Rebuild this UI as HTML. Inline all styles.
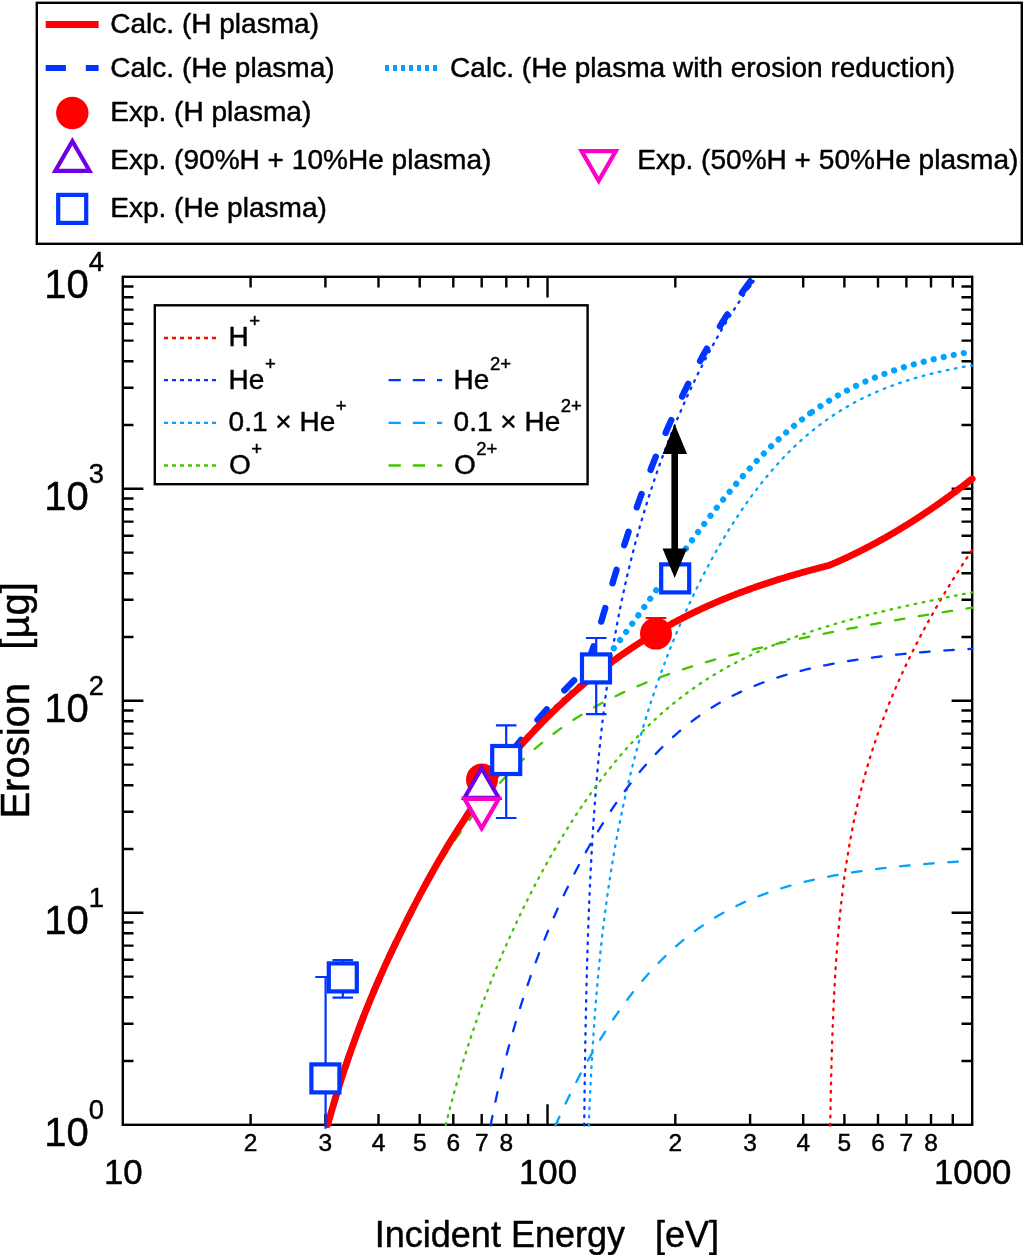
<!DOCTYPE html>
<html><head><meta charset="utf-8"><title>Erosion vs Incident Energy</title>
<style>html,body{margin:0;padding:0;background:#fff}svg{display:block}text{stroke:#000;stroke-width:.45px;stroke-linejoin:round}</style></head>
<body>
<svg width="1025" height="1255" viewBox="0 0 1025 1255">
<rect width="1025" height="1255" fill="#fff"/>
<g stroke="#000" stroke-width="2.4" fill="none">
<rect x="122.8" y="276.8" width="849.4" height="848.0"/>
<path d="M250.6,1124.8 v-10.7 M250.6,276.8 v10.7 M325.4,1124.8 v-10.7 M325.4,276.8 v10.7 M378.5,1124.8 v-10.7 M378.5,276.8 v10.7 M419.7,1124.8 v-10.7 M419.7,276.8 v10.7 M453.3,1124.8 v-10.7 M453.3,276.8 v10.7 M481.7,1124.8 v-10.7 M481.7,276.8 v10.7 M506.3,1124.8 v-10.7 M506.3,276.8 v10.7 M528.1,1124.8 v-10.7 M528.1,276.8 v10.7 M675.3,1124.8 v-10.7 M675.3,276.8 v10.7 M750.1,1124.8 v-10.7 M750.1,276.8 v10.7 M803.2,1124.8 v-10.7 M803.2,276.8 v10.7 M844.4,1124.8 v-10.7 M844.4,276.8 v10.7 M878.0,1124.8 v-10.7 M878.0,276.8 v10.7 M906.4,1124.8 v-10.7 M906.4,276.8 v10.7 M931.0,1124.8 v-10.7 M931.0,276.8 v10.7 M952.8,1124.8 v-10.7 M952.8,276.8 v10.7 M547.5,1124.8 v-20.6 M547.5,276.8 v20.6 M122.8,1061.0 h10.7 M972.2,1061.0 h-10.7 M122.8,1023.7 h10.7 M972.2,1023.7 h-10.7 M122.8,997.2 h10.7 M972.2,997.2 h-10.7 M122.8,976.6 h10.7 M972.2,976.6 h-10.7 M122.8,959.8 h10.7 M972.2,959.8 h-10.7 M122.8,945.6 h10.7 M972.2,945.6 h-10.7 M122.8,933.3 h10.7 M972.2,933.3 h-10.7 M122.8,922.5 h10.7 M972.2,922.5 h-10.7 M122.8,849.0 h10.7 M972.2,849.0 h-10.7 M122.8,811.7 h10.7 M972.2,811.7 h-10.7 M122.8,785.2 h10.7 M972.2,785.2 h-10.7 M122.8,764.6 h10.7 M972.2,764.6 h-10.7 M122.8,747.8 h10.7 M972.2,747.8 h-10.7 M122.8,733.6 h10.7 M972.2,733.6 h-10.7 M122.8,721.3 h10.7 M972.2,721.3 h-10.7 M122.8,710.5 h10.7 M972.2,710.5 h-10.7 M122.8,637.0 h10.7 M972.2,637.0 h-10.7 M122.8,599.7 h10.7 M972.2,599.7 h-10.7 M122.8,573.2 h10.7 M972.2,573.2 h-10.7 M122.8,552.6 h10.7 M972.2,552.6 h-10.7 M122.8,535.8 h10.7 M972.2,535.8 h-10.7 M122.8,521.6 h10.7 M972.2,521.6 h-10.7 M122.8,509.3 h10.7 M972.2,509.3 h-10.7 M122.8,498.5 h10.7 M972.2,498.5 h-10.7 M122.8,425.0 h10.7 M972.2,425.0 h-10.7 M122.8,387.7 h10.7 M972.2,387.7 h-10.7 M122.8,361.2 h10.7 M972.2,361.2 h-10.7 M122.8,340.6 h10.7 M972.2,340.6 h-10.7 M122.8,323.8 h10.7 M972.2,323.8 h-10.7 M122.8,309.6 h10.7 M972.2,309.6 h-10.7 M122.8,297.3 h10.7 M972.2,297.3 h-10.7 M122.8,286.5 h10.7 M972.2,286.5 h-10.7 M122.8,912.8 h20.6 M972.2,912.8 h-20.6 M122.8,700.8 h20.6 M972.2,700.8 h-20.6 M122.8,488.8 h20.6 M972.2,488.8 h-20.6"/>
</g>
<g fill="none" stroke-width="2.3" stroke-linecap="round">
<path d="M830.24,1125.62 L830.26,1124.42 L830.28,1123.22 L830.30,1122.02 L830.32,1120.82 L830.34,1119.62 L830.36,1118.42 L830.38,1117.22 L830.40,1116.02 L830.42,1114.82 L830.44,1113.62 L830.46,1112.42 L830.48,1111.22 L830.50,1110.02 L830.52,1108.82 L830.54,1107.63 L830.56,1106.43 L830.58,1105.23 L830.61,1104.03 L830.63,1102.83 L830.65,1101.63 L830.67,1100.43 L830.70,1099.23 L830.72,1098.03 L830.74,1096.83 L830.77,1095.63 L830.79,1094.43 L830.82,1093.23 L830.84,1092.03 L830.87,1090.83 L830.89,1089.63 L830.92,1088.43 L830.94,1087.23 L830.97,1086.03 L831.00,1084.83 L831.02,1083.63 L831.05,1082.43 L831.08,1081.23 L831.11,1080.03 L831.13,1078.83 L831.16,1077.63 L831.19,1076.43 L831.22,1075.23 L831.25,1074.03 L831.28,1072.83 L831.31,1071.63 L831.34,1070.43 L831.37,1069.23 L831.40,1068.03 L831.43,1066.83 L831.46,1065.64 L831.50,1064.44 L831.53,1063.24 L831.56,1062.04 L831.59,1060.84 L831.63,1059.64 L831.66,1058.44 L831.70,1057.24 L831.73,1056.04 L831.76,1054.84 L831.80,1053.64 L831.84,1052.44 L831.87,1051.24 L831.91,1050.04 L831.95,1048.84 L831.98,1047.64 L832.02,1046.44 L832.06,1045.24 L832.10,1044.04 L832.14,1042.85 L832.18,1041.65 L832.22,1040.45 L832.26,1039.25 L832.30,1038.05 L832.34,1036.85 L832.38,1035.65 L832.42,1034.45 L832.47,1033.25 L832.51,1032.05 L832.55,1030.85 L832.60,1029.65 L832.64,1028.45 L832.69,1027.26 L832.73,1026.06 L832.78,1024.86 L832.82,1023.66 L832.87,1022.46 L832.92,1021.26 L832.97,1020.06 L833.02,1018.86 L833.07,1017.66 L833.12,1016.46 L833.17,1015.26 L833.22,1014.07 L833.27,1012.87 L833.32,1011.67 L833.37,1010.47 L833.43,1009.27 L833.48,1008.07 L833.53,1006.87 L833.59,1005.67 L833.64,1004.48 L833.70,1003.28 L833.76,1002.08 L833.81,1000.88 L833.87,999.68 L833.93,998.48 L833.99,997.28 L834.05,996.08 L834.11,994.89 L834.17,993.69 L834.23,992.49 L834.29,991.29 L834.36,990.09 L834.42,988.89 L834.48,987.70 L834.55,986.50 L834.62,985.30 L834.68,984.10 L834.75,982.90 L834.82,981.71 L834.89,980.51 L834.95,979.31 L835.02,978.11 L835.10,976.91 L835.17,975.72 L835.24,974.52 L835.31,973.32 L835.39,972.12 L835.46,970.92 L835.54,969.73 L835.61,968.53 L835.69,967.33 L835.77,966.13 L835.85,964.94 L835.93,963.74 L836.01,962.54 L836.09,961.35 L836.17,960.15 L836.25,958.95 L836.34,957.75 L836.42,956.56 L836.51,955.36 L836.59,954.16 L836.68,952.97 L836.77,951.77 L836.86,950.57 L836.95,949.38 L837.04,948.18 L837.13,946.98 L837.22,945.79 L837.31,944.59 L837.41,943.39 L837.50,942.20 L837.60,941.00 L837.70,939.81 L837.80,938.61 L837.90,937.41 L838.00,936.22 L838.10,935.02 L838.20,933.83 L838.30,932.63 L838.41,931.44 L838.51,930.24 L838.62,929.05 L838.73,927.85 L838.84,926.65 L838.95,925.46 L839.06,924.27 L839.17,923.07 L839.28,921.88 L839.40,920.68 L839.51,919.49 L839.63,918.29 L839.75,917.10 L839.87,915.90 L839.99,914.71 L840.11,913.52 L840.23,912.32 L840.36,911.13 L840.48,909.94 L840.61,908.74 L840.73,907.55 L840.86,906.36 L840.99,905.16 L841.12,903.97 L841.25,902.78 L841.39,901.58 L841.52,900.39 L841.66,899.20 L841.80,898.01 L841.94,896.82 L842.07,895.62 L842.22,894.43 L842.36,893.24 L842.50,892.05 L842.65,890.86 L842.79,889.67 L842.94,888.48 L843.09,887.29 L843.24,886.10 L843.40,884.91 L843.55,883.72 L843.70,882.53 L843.86,881.34 L844.02,880.15 L844.18,878.96 L844.34,877.77 L844.50,876.58 L844.66,875.39 L844.83,874.20 L845.00,873.01 L845.16,871.82 L845.33,870.64 L845.51,869.45 L845.68,868.26 L845.85,867.07 L846.03,865.89 L846.21,864.70 L846.38,863.51 L846.56,862.33 L846.75,861.14 L846.93,859.96 L847.12,858.77 L847.30,857.58 L847.49,856.40 L847.68,855.21 L847.87,854.03 L848.07,852.85 L848.26,851.66 L848.46,850.48 L848.66,849.29 L848.86,848.11 L849.06,846.93 L849.26,845.75 L849.47,844.56 L849.67,843.38 L849.88,842.20 L850.09,841.02 L850.30,839.84 L850.52,838.66 L850.73,837.48 L850.95,836.30 L851.17,835.12 L851.39,833.94 L851.61,832.76 L851.84,831.58 L852.06,830.40 L852.29,829.22 L852.52,828.04 L852.75,826.87 L852.99,825.69 L853.22,824.51 L853.46,823.34 L853.70,822.16 L853.94,820.98 L854.18,819.81 L854.43,818.63 L854.67,817.46 L854.92,816.29 L855.17,815.11 L855.42,813.94 L855.68,812.77 L855.94,811.59 L856.19,810.42 L856.45,809.25 L856.71,808.08 L856.98,806.91 L857.24,805.74 L857.51,804.57 L857.78,803.40 L858.05,802.23 L858.33,801.06 L858.60,799.89 L858.88,798.73 L859.16,797.56 L859.44,796.39 L859.72,795.23 L860.01,794.06 L860.30,792.90 L860.58,791.73 L860.88,790.57 L861.17,789.40 L861.46,788.24 L861.76,787.08 L862.06,785.92 L862.36,784.75 L862.67,783.59 L862.97,782.43 L863.28,781.27 L863.59,780.11 L863.90,778.96 L864.21,777.80 L864.53,776.64 L864.85,775.48 L865.17,774.33 L865.49,773.17 L865.81,772.01 L866.14,770.86 L866.47,769.70 L866.80,768.55 L867.13,767.40 L867.46,766.25 L867.80,765.09 L868.14,763.94 L868.48,762.79 L868.82,761.64 L869.17,760.49 L869.51,759.34 L869.86,758.19 L870.21,757.05 L870.56,755.90 L870.92,754.75 L871.28,753.61 L871.63,752.46 L872.00,751.32 L872.36,750.17 L872.72,749.03 L873.09,747.89 L873.46,746.75 L873.83,745.61 L874.21,744.47 L874.58,743.33 L874.96,742.19 L875.34,741.05 L875.72,739.91 L876.10,738.77 L876.49,737.64 L876.88,736.50 L877.27,735.37 L877.66,734.23 L878.05,733.10 L878.45,731.97 L878.85,730.84 L879.25,729.70 L879.65,728.57 L880.06,727.44 L880.46,726.31 L880.87,725.19 L881.28,724.06 L881.69,722.93 L882.11,721.81 L882.52,720.68 L882.94,719.56 L883.36,718.43 L883.79,717.31 L884.21,716.19 L884.64,715.06 L885.07,713.94 L885.50,712.82 L885.93,711.70 L886.36,710.59 L886.80,709.47 L887.24,708.35 L887.68,707.24 L888.12,706.12 L888.57,705.01 L889.01,703.89 L889.46,702.78 L889.91,701.67 L890.36,700.55 L890.82,699.44 L891.28,698.33 L891.73,697.22 L892.19,696.12 L892.66,695.01 L893.12,693.90 L893.59,692.80 L894.05,691.69 L894.52,690.59 L894.99,689.48 L895.47,688.38 L895.94,687.28 L896.42,686.18 L896.90,685.08 L897.38,683.98 L897.86,682.88 L898.35,681.78 L898.83,680.69 L899.32,679.59 L899.81,678.49 L900.31,677.40 L900.80,676.31 L901.30,675.21 L901.79,674.12 L902.29,673.03 L902.79,671.94 L903.30,670.85 L903.80,669.76 L904.31,668.67 L904.82,667.59 L905.33,666.50 L905.84,665.42 L906.35,664.33 L906.87,663.25 L907.38,662.16 L907.90,661.08 L908.42,660.00 L908.95,658.92 L909.47,657.84 L910.00,656.76 L910.52,655.68 L911.05,654.61 L911.58,653.53 L912.12,652.46 L912.65,651.38 L913.19,650.31 L913.72,649.24 L914.26,648.16 L914.80,647.09 L915.35,646.02 L915.89,644.95 L916.44,643.88 L916.98,642.82 L917.53,641.75 L918.08,640.68 L918.64,639.62 L919.19,638.55 L919.75,637.49 L920.30,636.43 L920.86,635.36 L921.42,634.30 L921.98,633.24 L922.55,632.18 L923.11,631.12 L923.68,630.07 L924.25,629.01 L924.82,627.95 L925.39,626.90 L925.96,625.84 L926.53,624.79 L927.11,623.74 L927.69,622.68 L928.26,621.63 L928.84,620.58 L929.43,619.53 L930.01,618.48 L930.59,617.44 L931.18,616.39 L931.77,615.34 L932.35,614.30 L932.94,613.25 L933.54,612.21 L934.13,611.16 L934.72,610.12 L935.32,609.08 L935.92,608.04 L936.52,607.00 L937.12,605.96 L937.72,604.92 L938.32,603.88 L938.92,602.85 L939.53,601.81 L940.14,600.78 L940.75,599.74 L941.35,598.71 L941.97,597.68 L942.58,596.64 L943.19,595.61 L943.81,594.58 L944.42,593.55 L945.04,592.52 L945.66,591.49 L946.28,590.47 L946.90,589.44 L947.52,588.41 L948.15,587.39 L948.77,586.37 L949.40,585.34 L950.03,584.32 L950.66,583.30 L951.29,582.28 L951.92,581.26 L952.55,580.24 L953.19,579.22 L953.82,578.20 L954.46,577.18 L955.09,576.17 L955.73,575.15 L956.37,574.14 L957.01,573.12 L957.66,572.11 L958.30,571.09 L958.95,570.08 L959.59,569.07 L960.24,568.06 L960.89,567.05 L961.54,566.04 L962.19,565.03 L962.84,564.03 L963.49,563.02 L964.15,562.01 L964.80,561.01 L965.46,560.00 L966.12,559.00 L966.77,558.00 L967.43,556.99 L968.10,555.99 L968.76,554.99 L969.42,553.99 L970.08,552.99 L970.75,551.99 L971.42,551.00 L972.08,550.00 L972.20,549.82" stroke="#ff0000" stroke-dasharray="1.7,6.54" stroke-dashoffset="0.00"/>
<path d="M584.21,1125.40 L584.23,1124.20 L584.24,1123.00 L584.25,1121.80 L584.26,1120.60 L584.28,1119.40 L584.29,1118.20 L584.30,1117.00 L584.32,1115.80 L584.33,1114.60 L584.34,1113.40 L584.36,1112.20 L584.37,1111.00 L584.38,1109.80 L584.40,1108.60 L584.41,1107.40 L584.42,1106.20 L584.44,1105.00 L584.45,1103.80 L584.47,1102.60 L584.48,1101.40 L584.49,1100.20 L584.51,1099.00 L584.52,1097.80 L584.54,1096.60 L584.55,1095.41 L584.57,1094.21 L584.58,1093.01 L584.60,1091.81 L584.61,1090.61 L584.63,1089.41 L584.65,1088.21 L584.66,1087.01 L584.68,1085.81 L584.69,1084.61 L584.71,1083.41 L584.73,1082.21 L584.74,1081.01 L584.76,1079.81 L584.77,1078.61 L584.79,1077.41 L584.81,1076.21 L584.83,1075.01 L584.84,1073.81 L584.86,1072.61 L584.88,1071.41 L584.89,1070.21 L584.91,1069.01 L584.93,1067.81 L584.95,1066.61 L584.97,1065.41 L584.98,1064.21 L585.00,1063.01 L585.02,1061.81 L585.04,1060.61 L585.06,1059.41 L585.08,1058.21 L585.10,1057.01 L585.11,1055.81 L585.13,1054.61 L585.15,1053.41 L585.17,1052.21 L585.19,1051.01 L585.21,1049.81 L585.23,1048.61 L585.25,1047.41 L585.27,1046.21 L585.29,1045.01 L585.31,1043.81 L585.33,1042.61 L585.36,1041.41 L585.38,1040.21 L585.40,1039.01 L585.42,1037.81 L585.44,1036.61 L585.46,1035.41 L585.48,1034.21 L585.51,1033.01 L585.53,1031.81 L585.55,1030.61 L585.57,1029.41 L585.60,1028.21 L585.62,1027.01 L585.64,1025.81 L585.67,1024.61 L585.69,1023.41 L585.71,1022.21 L585.74,1021.01 L585.76,1019.81 L585.79,1018.62 L585.81,1017.42 L585.83,1016.22 L585.86,1015.02 L585.88,1013.82 L585.91,1012.62 L585.93,1011.42 L585.96,1010.22 L585.99,1009.02 L586.01,1007.82 L586.04,1006.62 L586.06,1005.42 L586.09,1004.22 L586.12,1003.02 L586.14,1001.82 L586.17,1000.62 L586.20,999.42 L586.23,998.22 L586.25,997.02 L586.28,995.82 L586.31,994.62 L586.34,993.42 L586.37,992.22 L586.40,991.02 L586.42,989.82 L586.45,988.62 L586.48,987.42 L586.51,986.22 L586.54,985.02 L586.57,983.82 L586.60,982.62 L586.63,981.42 L586.66,980.23 L586.69,979.03 L586.73,977.83 L586.76,976.63 L586.79,975.43 L586.82,974.23 L586.85,973.03 L586.89,971.83 L586.92,970.63 L586.95,969.43 L586.98,968.23 L587.02,967.03 L587.05,965.83 L587.09,964.63 L587.12,963.43 L587.15,962.23 L587.19,961.03 L587.22,959.83 L587.26,958.63 L587.29,957.43 L587.33,956.23 L587.37,955.03 L587.40,953.84 L587.44,952.64 L587.47,951.44 L587.51,950.24 L587.55,949.04 L587.59,947.84 L587.62,946.64 L587.66,945.44 L587.70,944.24 L587.74,943.04 L587.78,941.84 L587.82,940.64 L587.86,939.44 L587.90,938.24 L587.94,937.04 L587.98,935.84 L588.02,934.65 L588.06,933.45 L588.10,932.25 L588.14,931.05 L588.18,929.85 L588.23,928.65 L588.27,927.45 L588.31,926.25 L588.35,925.05 L588.40,923.85 L588.44,922.65 L588.49,921.45 L588.53,920.25 L588.58,919.06 L588.62,917.86 L588.67,916.66 L588.71,915.46 L588.76,914.26 L588.80,913.06 L588.85,911.86 L588.90,910.66 L588.95,909.46 L588.99,908.26 L589.04,907.06 L589.09,905.87 L589.14,904.67 L589.19,903.47 L589.24,902.27 L589.29,901.07 L589.34,899.87 L589.39,898.67 L589.44,897.47 L589.49,896.27 L589.54,895.07 L589.59,893.88 L589.65,892.68 L589.70,891.48 L589.75,890.28 L589.81,889.08 L589.86,887.88 L589.92,886.68 L589.97,885.48 L590.03,884.29 L590.08,883.09 L590.14,881.89 L590.19,880.69 L590.25,879.49 L590.31,878.29 L590.37,877.09 L590.42,875.90 L590.48,874.70 L590.54,873.50 L590.60,872.30 L590.66,871.10 L590.72,869.90 L590.78,868.70 L590.84,867.51 L590.90,866.31 L590.96,865.11 L591.03,863.91 L591.09,862.71 L591.15,861.51 L591.22,860.32 L591.28,859.12 L591.34,857.92 L591.41,856.72 L591.48,855.52 L591.54,854.32 L591.61,853.13 L591.67,851.93 L591.74,850.73 L591.81,849.53 L591.88,848.33 L591.95,847.14 L592.02,845.94 L592.09,844.74 L592.16,843.54 L592.23,842.34 L592.30,841.15 L592.37,839.95 L592.44,838.75 L592.51,837.55 L592.59,836.35 L592.66,835.16 L592.74,833.96 L592.81,832.76 L592.89,831.56 L592.96,830.37 L593.04,829.17 L593.11,827.97 L593.19,826.77 L593.27,825.58 L593.35,824.38 L593.43,823.18 L593.51,821.98 L593.59,820.79 L593.67,819.59 L593.75,818.39 L593.83,817.19 L593.91,816.00 L594.00,814.80 L594.08,813.60 L594.16,812.41 L594.25,811.21 L594.33,810.01 L594.42,808.82 L594.50,807.62 L594.59,806.42 L594.68,805.22 L594.77,804.03 L594.86,802.83 L594.94,801.63 L595.03,800.44 L595.13,799.24 L595.22,798.05 L595.31,796.85 L595.40,795.65 L595.49,794.46 L595.59,793.26 L595.68,792.06 L595.78,790.87 L595.87,789.67 L595.97,788.47 L596.06,787.28 L596.16,786.08 L596.26,784.89 L596.36,783.69 L596.46,782.49 L596.56,781.30 L596.66,780.10 L596.76,778.91 L596.86,777.71 L596.97,776.52 L597.07,775.32 L597.17,774.13 L597.28,772.93 L597.38,771.73 L597.49,770.54 L597.60,769.34 L597.70,768.15 L597.81,766.95 L597.92,765.76 L598.03,764.56 L598.14,763.37 L598.25,762.17 L598.36,760.98 L598.48,759.78 L598.59,758.59 L598.70,757.39 L598.82,756.20 L598.93,755.01 L599.05,753.81 L599.17,752.62 L599.28,751.42 L599.40,750.23 L599.52,749.04 L599.64,747.84 L599.76,746.65 L599.88,745.45 L600.01,744.26 L600.13,743.07 L600.25,741.87 L600.38,740.68 L600.50,739.49 L600.63,738.29 L600.76,737.10 L600.89,735.91 L601.01,734.71 L601.14,733.52 L601.27,732.33 L601.41,731.13 L601.54,729.94 L601.67,728.75 L601.80,727.56 L601.94,726.36 L602.07,725.17 L602.21,723.98 L602.35,722.79 L602.48,721.59 L602.62,720.40 L602.76,719.21 L602.90,718.02 L603.04,716.83 L603.19,715.64 L603.33,714.44 L603.47,713.25 L603.62,712.06 L603.76,710.87 L603.91,709.68 L604.06,708.49 L604.21,707.30 L604.36,706.11 L604.51,704.92 L604.66,703.73 L604.81,702.54 L604.96,701.35 L605.12,700.16 L605.27,698.97 L605.43,697.78 L605.58,696.59 L605.74,695.40 L605.90,694.21 L606.06,693.02 L606.22,691.83 L606.38,690.64 L606.54,689.45 L606.70,688.26 L606.87,687.07 L607.03,685.88 L607.20,684.70 L607.37,683.51 L607.54,682.32 L607.70,681.13 L607.87,679.94 L608.05,678.76 L608.22,677.57 L608.39,676.38 L608.56,675.19 L608.74,674.01 L608.92,672.82 L609.09,671.63 L609.27,670.45 L609.45,669.26 L609.63,668.07 L609.81,666.89 L609.99,665.70 L610.18,664.51 L610.36,663.33 L610.55,662.14 L610.73,660.96 L610.92,659.77 L611.11,658.59 L611.30,657.40 L611.49,656.22 L611.68,655.03 L611.87,653.85 L612.07,652.66 L612.26,651.48 L612.46,650.30 L612.65,649.11 L612.85,647.93 L613.05,646.75 L613.25,645.56 L613.45,644.38 L613.65,643.20 L613.86,642.01 L614.06,640.83 L614.27,639.65 L614.47,638.47 L614.68,637.28 L614.89,636.10 L615.10,634.92 L615.31,633.74 L615.53,632.56 L615.74,631.38 L615.95,630.20 L616.17,629.02 L616.39,627.84 L616.60,626.66 L616.82,625.48 L617.04,624.30 L617.27,623.12 L617.49,621.94 L617.71,620.76 L617.94,619.58 L618.16,618.40 L618.39,617.23 L618.62,616.05 L618.85,614.87 L619.08,613.69 L619.31,612.51 L619.55,611.34 L619.78,610.16 L620.02,608.98 L620.25,607.81 L620.49,606.63 L620.73,605.46 L620.97,604.28 L621.21,603.10 L621.46,601.93 L621.70,600.75 L621.95,599.58 L622.19,598.41 L622.44,597.23 L622.69,596.06 L622.94,594.88 L623.19,593.71 L623.44,592.54 L623.70,591.36 L623.95,590.19 L624.21,589.02 L624.47,587.85 L624.73,586.68 L624.99,585.50 L625.25,584.33 L625.51,583.16 L625.77,581.99 L626.04,580.82 L626.31,579.65 L626.57,578.48 L626.84,577.31 L627.11,576.14 L627.38,574.97 L627.66,573.81 L627.93,572.64 L628.21,571.47 L628.48,570.30 L628.76,569.13 L629.04,567.97 L629.32,566.80 L629.60,565.63 L629.89,564.47 L630.17,563.30 L630.46,562.14 L630.74,560.97 L631.03,559.81 L631.32,558.64 L631.61,557.48 L631.90,556.31 L632.20,555.15 L632.49,553.99 L632.79,552.82 L633.09,551.66 L633.39,550.50 L633.69,549.34 L633.99,548.18 L634.29,547.02 L634.60,545.85 L634.90,544.69 L635.21,543.53 L635.52,542.37 L635.83,541.22 L636.14,540.06 L636.45,538.90 L636.76,537.74 L637.08,536.58 L637.39,535.42 L637.71,534.27 L638.03,533.11 L638.35,531.95 L638.67,530.80 L639.00,529.64 L639.32,528.49 L639.65,527.33 L639.97,526.18 L640.30,525.02 L640.63,523.87 L640.96,522.72 L641.29,521.56 L641.63,520.41 L641.96,519.26 L642.30,518.11 L642.64,516.95 L642.98,515.80 L643.32,514.65 L643.66,513.50 L644.01,512.35 L644.35,511.20 L644.70,510.05 L645.05,508.91 L645.39,507.76 L645.74,506.61 L646.10,505.46 L646.45,504.32 L646.81,503.17 L647.16,502.02 L647.52,500.88 L647.88,499.73 L648.24,498.59 L648.60,497.45 L648.96,496.30 L649.33,495.16 L649.69,494.02 L650.06,492.87 L650.43,491.73 L650.80,490.59 L651.17,489.45 L651.55,488.31 L651.92,487.17 L652.30,486.03 L652.67,484.89 L653.05,483.75 L653.43,482.61 L653.82,481.48 L654.20,480.34 L654.58,479.20 L654.97,478.07 L655.36,476.93 L655.75,475.79 L656.14,474.66 L656.53,473.53 L656.92,472.39 L657.32,471.26 L657.71,470.13 L658.11,468.99 L658.51,467.86 L658.91,466.73 L659.31,465.60 L659.71,464.47 L660.12,463.34 L660.52,462.21 L660.93,461.08 L661.34,459.95 L661.75,458.83 L662.16,457.70 L662.58,456.57 L662.99,455.45 L663.41,454.32 L663.83,453.20 L664.25,452.07 L664.67,450.95 L665.09,449.83 L665.51,448.70 L665.94,447.58 L666.37,446.46 L666.79,445.34 L667.22,444.22 L667.66,443.10 L668.09,441.98 L668.52,440.86 L668.96,439.74 L669.40,438.62 L669.83,437.51 L670.28,436.39 L670.72,435.28 L671.16,434.16 L671.61,433.05 L672.05,431.93 L672.50,430.82 L672.95,429.71 L673.40,428.59 L673.85,427.48 L674.31,426.37 L674.76,425.26 L675.22,424.15 L675.68,423.04 L676.14,421.93 L676.60,420.83 L677.06,419.72 L677.53,418.61 L677.99,417.51 L678.46,416.40 L678.93,415.30 L679.40,414.19 L679.87,413.09 L680.35,411.99 L680.82,410.89 L681.30,409.79 L681.78,408.69 L682.26,407.59 L682.74,406.49 L683.22,405.39 L683.71,404.29 L684.19,403.19 L684.68,402.10 L685.17,401.00 L685.66,399.91 L686.16,398.81 L686.65,397.72 L687.15,396.63 L687.64,395.54 L688.14,394.44 L688.64,393.35 L689.15,392.26 L689.65,391.17 L690.16,390.09 L690.66,389.00 L691.17,387.91 L691.68,386.83 L692.20,385.74 L692.71,384.66 L693.22,383.57 L693.74,382.49 L694.26,381.41 L694.78,380.33 L695.30,379.25 L695.83,378.17 L696.35,377.09 L696.88,376.01 L697.41,374.93 L697.94,373.86 L698.47,372.78 L699.01,371.71 L699.54,370.63 L700.08,369.56 L700.62,368.49 L701.16,367.42 L701.70,366.35 L702.25,365.28 L702.79,364.21 L703.34,363.14 L703.89,362.07 L704.44,361.01 L705.00,359.94 L705.55,358.88 L706.11,357.82 L706.67,356.75 L707.23,355.69 L707.79,354.63 L708.35,353.57 L708.92,352.52 L709.48,351.46 L710.05,350.40 L710.62,349.35 L711.20,348.29 L711.77,347.24 L712.35,346.19 L712.93,345.14 L713.51,344.08 L714.09,343.04 L714.67,341.99 L715.26,340.94 L715.85,339.89 L716.44,338.85 L717.03,337.80 L717.62,336.76 L718.22,335.72 L718.82,334.68 L719.42,333.64 L720.02,332.60 L720.62,331.56 L721.23,330.53 L721.83,329.49 L722.44,328.46 L723.06,327.43 L723.67,326.40 L724.28,325.37 L724.90,324.34 L725.52,323.31 L726.14,322.28 L726.77,321.26 L727.39,320.23 L728.02,319.21 L728.65,318.19 L729.28,317.17 L729.92,316.15 L730.55,315.13 L731.19,314.12 L731.83,313.10 L732.47,312.09 L733.12,311.08 L733.76,310.07 L734.41,309.06 L735.06,308.05 L735.72,307.04 L736.37,306.04 L737.03,305.03 L737.69,304.03 L738.35,303.03 L739.02,302.03 L739.69,301.03 L740.35,300.04 L741.03,299.04 L741.70,298.05 L742.38,297.06 L743.05,296.07 L743.74,295.08 L744.42,294.09 L745.10,293.11 L745.79,292.13 L746.48,291.14 L747.18,290.16 L747.87,289.19 L748.57,288.21 L749.27,287.24 L749.97,286.26 L750.68,285.29 L751.38,284.32 L752.09,283.36 L752.81,282.39 L753.52,281.43 L754.24,280.46 L754.96,279.50 L755.68,278.55 L756.41,277.59 L757.13,276.64 L757.29,276.43" stroke="#0034ff" stroke-dasharray="1.7,6.54" stroke-dashoffset="0.00"/>
<path d="M588.78,1125.70 L588.83,1124.50 L588.87,1123.30 L588.92,1122.11 L588.97,1120.91 L589.02,1119.71 L589.06,1118.51 L589.11,1117.31 L589.16,1116.11 L589.21,1114.91 L589.26,1113.71 L589.31,1112.51 L589.36,1111.31 L589.41,1110.12 L589.46,1108.92 L589.51,1107.72 L589.57,1106.52 L589.62,1105.32 L589.67,1104.12 L589.72,1102.92 L589.78,1101.72 L589.83,1100.52 L589.89,1099.33 L589.94,1098.13 L590.00,1096.93 L590.05,1095.73 L590.11,1094.53 L590.16,1093.33 L590.22,1092.13 L590.28,1090.94 L590.33,1089.74 L590.39,1088.54 L590.45,1087.34 L590.51,1086.14 L590.57,1084.94 L590.63,1083.74 L590.69,1082.55 L590.75,1081.35 L590.81,1080.15 L590.87,1078.95 L590.93,1077.75 L590.99,1076.55 L591.06,1075.35 L591.12,1074.16 L591.18,1072.96 L591.25,1071.76 L591.31,1070.56 L591.37,1069.36 L591.44,1068.16 L591.51,1066.97 L591.57,1065.77 L591.64,1064.57 L591.71,1063.37 L591.77,1062.17 L591.84,1060.98 L591.91,1059.78 L591.98,1058.58 L592.05,1057.38 L592.12,1056.18 L592.19,1054.99 L592.26,1053.79 L592.33,1052.59 L592.40,1051.39 L592.48,1050.19 L592.55,1049.00 L592.62,1047.80 L592.70,1046.60 L592.77,1045.40 L592.84,1044.21 L592.92,1043.01 L593.00,1041.81 L593.07,1040.61 L593.15,1039.42 L593.23,1038.22 L593.31,1037.02 L593.38,1035.82 L593.46,1034.63 L593.54,1033.43 L593.62,1032.23 L593.70,1031.03 L593.79,1029.84 L593.87,1028.64 L593.95,1027.44 L594.03,1026.25 L594.12,1025.05 L594.20,1023.85 L594.29,1022.65 L594.37,1021.46 L594.46,1020.26 L594.54,1019.06 L594.63,1017.87 L594.72,1016.67 L594.81,1015.47 L594.90,1014.28 L594.99,1013.08 L595.08,1011.88 L595.17,1010.69 L595.26,1009.49 L595.35,1008.29 L595.44,1007.10 L595.54,1005.90 L595.63,1004.70 L595.73,1003.51 L595.82,1002.31 L595.92,1001.12 L596.01,999.92 L596.11,998.72 L596.21,997.53 L596.31,996.33 L596.40,995.14 L596.50,993.94 L596.60,992.74 L596.71,991.55 L596.81,990.35 L596.91,989.16 L597.01,987.96 L597.12,986.77 L597.22,985.57 L597.33,984.38 L597.43,983.18 L597.54,981.98 L597.65,980.79 L597.75,979.59 L597.86,978.40 L597.97,977.20 L598.08,976.01 L598.19,974.81 L598.30,973.62 L598.42,972.42 L598.53,971.23 L598.64,970.04 L598.76,968.84 L598.87,967.65 L598.99,966.45 L599.10,965.26 L599.22,964.06 L599.34,962.87 L599.46,961.68 L599.58,960.48 L599.70,959.29 L599.82,958.09 L599.94,956.90 L600.06,955.71 L600.19,954.51 L600.31,953.32 L600.44,952.13 L600.56,950.93 L600.69,949.74 L600.82,948.55 L600.95,947.35 L601.07,946.16 L601.20,944.97 L601.34,943.77 L601.47,942.58 L601.60,941.39 L601.73,940.20 L601.87,939.00 L602.00,937.81 L602.14,936.62 L602.27,935.43 L602.41,934.23 L602.55,933.04 L602.69,931.85 L602.83,930.66 L602.97,929.47 L603.11,928.27 L603.25,927.08 L603.40,925.89 L603.54,924.70 L603.69,923.51 L603.83,922.32 L603.98,921.13 L604.13,919.94 L604.28,918.75 L604.43,917.56 L604.58,916.36 L604.73,915.17 L604.88,913.98 L605.03,912.79 L605.19,911.60 L605.34,910.41 L605.50,909.22 L605.66,908.03 L605.81,906.84 L605.97,905.66 L606.13,904.47 L606.29,903.28 L606.45,902.09 L606.62,900.90 L606.78,899.71 L606.95,898.52 L607.11,897.33 L607.28,896.14 L607.45,894.96 L607.61,893.77 L607.78,892.58 L607.95,891.39 L608.12,890.20 L608.30,889.02 L608.47,887.83 L608.65,886.64 L608.82,885.46 L609.00,884.27 L609.17,883.08 L609.35,881.90 L609.53,880.71 L609.71,879.52 L609.89,878.34 L610.08,877.15 L610.26,875.96 L610.45,874.78 L610.63,873.59 L610.82,872.41 L611.01,871.22 L611.19,870.04 L611.38,868.85 L611.58,867.67 L611.77,866.48 L611.96,865.30 L612.16,864.11 L612.35,862.93 L612.55,861.75 L612.74,860.56 L612.94,859.38 L613.14,858.20 L613.34,857.01 L613.54,855.83 L613.75,854.65 L613.95,853.47 L614.16,852.28 L614.36,851.10 L614.57,849.92 L614.78,848.74 L614.99,847.56 L615.20,846.37 L615.41,845.19 L615.62,844.01 L615.84,842.83 L616.05,841.65 L616.27,840.47 L616.49,839.29 L616.71,838.11 L616.93,836.93 L617.15,835.75 L617.37,834.57 L617.59,833.39 L617.82,832.21 L618.04,831.04 L618.27,829.86 L618.50,828.68 L618.73,827.50 L618.96,826.32 L619.19,825.15 L619.42,823.97 L619.65,822.79 L619.89,821.61 L620.13,820.44 L620.36,819.26 L620.60,818.09 L620.84,816.91 L621.08,815.73 L621.33,814.56 L621.57,813.38 L621.81,812.21 L622.06,811.04 L622.31,809.86 L622.55,808.69 L622.80,807.51 L623.06,806.34 L623.31,805.17 L623.56,803.99 L623.82,802.82 L624.07,801.65 L624.33,800.48 L624.59,799.30 L624.85,798.13 L625.11,796.96 L625.37,795.79 L625.63,794.62 L625.90,793.45 L626.16,792.28 L626.43,791.11 L626.70,789.94 L626.97,788.77 L627.24,787.60 L627.51,786.43 L627.78,785.26 L628.06,784.10 L628.33,782.93 L628.61,781.76 L628.89,780.59 L629.17,779.43 L629.45,778.26 L629.73,777.09 L630.02,775.93 L630.30,774.76 L630.59,773.60 L630.88,772.43 L631.17,771.27 L631.46,770.10 L631.75,768.94 L632.04,767.77 L632.33,766.61 L632.63,765.45 L632.93,764.29 L633.23,763.12 L633.53,761.96 L633.83,760.80 L634.13,759.64 L634.43,758.48 L634.74,757.32 L635.04,756.16 L635.35,755.00 L635.66,753.84 L635.97,752.68 L636.28,751.52 L636.59,750.36 L636.91,749.20 L637.22,748.04 L637.54,746.89 L637.86,745.73 L638.18,744.57 L638.50,743.42 L638.82,742.26 L639.15,741.11 L639.47,739.95 L639.80,738.80 L640.12,737.64 L640.45,736.49 L640.78,735.33 L641.12,734.18 L641.45,733.03 L641.78,731.88 L642.12,730.72 L642.46,729.57 L642.80,728.42 L643.14,727.27 L643.48,726.12 L643.82,724.97 L644.17,723.82 L644.51,722.67 L644.86,721.52 L645.21,720.37 L645.56,719.23 L645.91,718.08 L646.26,716.93 L646.61,715.79 L646.97,714.64 L647.33,713.49 L647.69,712.35 L648.05,711.20 L648.41,710.06 L648.77,708.91 L649.13,707.77 L649.50,706.63 L649.86,705.49 L650.23,704.34 L650.60,703.20 L650.97,702.06 L651.35,700.92 L651.72,699.78 L652.09,698.64 L652.47,697.50 L652.85,696.36 L653.23,695.22 L653.61,694.09 L653.99,692.95 L654.38,691.81 L654.76,690.67 L655.15,689.54 L655.54,688.40 L655.93,687.27 L656.32,686.13 L656.71,685.00 L657.10,683.87 L657.50,682.73 L657.90,681.60 L658.29,680.47 L658.69,679.34 L659.09,678.21 L659.50,677.08 L659.90,675.95 L660.31,674.82 L660.71,673.69 L661.12,672.56 L661.53,671.43 L661.94,670.30 L662.36,669.18 L662.77,668.05 L663.19,666.93 L663.60,665.80 L664.02,664.68 L664.44,663.55 L664.86,662.43 L665.29,661.30 L665.71,660.18 L666.14,659.06 L666.56,657.94 L666.99,656.82 L667.42,655.70 L667.86,654.58 L668.29,653.46 L668.72,652.34 L669.16,651.22 L669.60,650.11 L670.04,648.99 L670.48,647.87 L670.92,646.76 L671.37,645.64 L671.81,644.53 L672.26,643.42 L672.71,642.30 L673.16,641.19 L673.61,640.08 L674.06,638.97 L674.52,637.86 L674.97,636.75 L675.43,635.64 L675.89,634.53 L676.35,633.42 L676.81,632.31 L677.28,631.21 L677.74,630.10 L678.21,629.00 L678.68,627.89 L679.15,626.79 L679.62,625.68 L680.09,624.58 L680.57,623.48 L681.04,622.38 L681.52,621.28 L682.00,620.18 L682.48,619.08 L682.96,617.98 L683.45,616.88 L683.93,615.78 L684.42,614.69 L684.91,613.59 L685.40,612.49 L685.89,611.40 L686.38,610.31 L686.88,609.21 L687.38,608.12 L687.87,607.03 L688.37,605.94 L688.88,604.85 L689.38,603.76 L689.88,602.67 L690.39,601.58 L690.90,600.49 L691.41,599.41 L691.92,598.32 L692.43,597.24 L692.95,596.15 L693.46,595.07 L693.98,593.99 L694.50,592.91 L695.02,591.83 L695.55,590.75 L696.07,589.67 L696.60,588.59 L697.13,587.51 L697.66,586.43 L698.19,585.36 L698.72,584.28 L699.25,583.21 L699.79,582.14 L700.33,581.06 L700.87,579.99 L701.41,578.92 L701.95,577.85 L702.50,576.78 L703.05,575.71 L703.60,574.65 L704.15,573.58 L704.70,572.51 L705.25,571.45 L705.81,570.39 L706.37,569.32 L706.92,568.26 L707.49,567.20 L708.05,566.14 L708.61,565.08 L709.18,564.03 L709.75,562.97 L710.32,561.91 L710.89,560.86 L711.46,559.80 L712.04,558.75 L712.62,557.70 L713.20,556.65 L713.78,555.60 L714.36,554.55 L714.95,553.50 L715.53,552.45 L716.12,551.41 L716.71,550.36 L717.31,549.32 L717.90,548.28 L718.50,547.24 L719.10,546.20 L719.70,545.16 L720.30,544.12 L720.90,543.08 L721.51,542.05 L722.12,541.01 L722.73,539.98 L723.34,538.95 L723.95,537.92 L724.57,536.89 L725.19,535.86 L725.81,534.83 L726.43,533.81 L727.06,532.78 L727.68,531.76 L728.31,530.74 L728.94,529.72 L729.57,528.70 L730.21,527.68 L730.85,526.66 L731.49,525.65 L732.13,524.63 L732.77,523.62 L733.42,522.61 L734.06,521.60 L734.71,520.59 L735.37,519.58 L736.02,518.58 L736.68,517.57 L737.34,516.57 L738.00,515.57 L738.66,514.57 L739.33,513.57 L740.00,512.57 L740.67,511.58 L741.34,510.58 L742.01,509.59 L742.69,508.60 L743.37,507.61 L744.05,506.62 L744.74,505.64 L745.42,504.65 L746.11,503.67 L746.80,502.69 L747.50,501.71 L748.19,500.73 L748.89,499.76 L749.59,498.78 L750.30,497.81 L751.00,496.84 L751.71,495.87 L752.42,494.91 L753.14,493.94 L753.85,492.98 L754.57,492.02 L755.29,491.06 L756.02,490.10 L756.74,489.15 L757.47,488.19 L758.21,487.24 L758.94,486.29 L759.68,485.35 L760.42,484.40 L761.16,483.46 L761.90,482.52 L762.65,481.58 L763.40,480.64 L764.16,479.71 L764.91,478.78 L765.67,477.85 L766.43,476.92 L767.20,476.00 L767.96,475.07 L768.73,474.15 L769.51,473.24 L770.28,472.32 L771.06,471.41 L771.84,470.50 L772.63,469.59 L773.41,468.68 L774.20,467.78 L775.00,466.88 L775.79,465.98 L776.59,465.08 L777.39,464.19 L778.20,463.30 L779.01,462.41 L779.82,461.53 L780.63,460.65 L781.45,459.77 L782.27,458.89 L783.09,458.02 L783.92,457.15 L784.75,456.28 L785.58,455.42 L786.41,454.55 L787.25,453.70 L788.09,452.84 L788.94,451.99 L789.78,451.14 L790.64,450.29 L791.49,449.45 L792.35,448.61 L793.21,447.77 L794.07,446.94 L794.94,446.11 L795.81,445.28 L796.68,444.46 L797.56,443.64 L798.44,442.82 L799.32,442.01 L800.20,441.20 L801.09,440.40 L801.99,439.59 L802.88,438.80 L803.78,438.00 L804.68,437.21 L805.59,436.42 L806.50,435.64 L807.41,434.86 L808.32,434.08 L809.24,433.31 L810.16,432.54 L811.09,431.77 L812.01,431.01 L812.95,430.26 L813.88,429.50 L814.82,428.75 L815.76,428.01 L816.70,427.27 L817.65,426.53 L818.60,425.80 L819.55,425.07 L820.51,424.35 L821.47,423.63 L822.43,422.91 L823.40,422.20 L824.37,421.49 L825.34,420.79 L826.32,420.09 L827.30,419.39 L828.28,418.71 L829.26,418.02 L830.25,417.34 L831.24,416.66 L832.24,415.99 L833.23,415.32 L834.23,414.66 L835.24,414.00 L836.24,413.35 L837.25,412.70 L838.26,412.05 L839.28,411.41 L840.30,410.78 L841.32,410.14 L842.34,409.52 L843.37,408.90 L844.40,408.28 L845.43,407.67 L846.46,407.06 L847.50,406.46 L848.54,405.86 L849.58,405.26 L850.63,404.67 L851.68,404.09 L852.73,403.51 L853.78,402.93 L854.83,402.36 L855.89,401.80 L856.95,401.24 L858.02,400.68 L859.08,400.13 L860.15,399.58 L861.22,399.04 L862.29,398.50 L863.37,397.97 L864.45,397.44 L865.53,396.92 L866.61,396.40 L867.69,395.89 L868.78,395.38 L869.87,394.87 L870.96,394.37 L872.05,393.87 L873.15,393.38 L874.24,392.90 L875.34,392.41 L876.44,391.94 L877.55,391.46 L878.65,390.99 L879.76,390.53 L880.87,390.07 L881.98,389.62 L883.09,389.16 L884.20,388.72 L885.32,388.28 L886.43,387.84 L887.55,387.40 L888.67,386.98 L889.80,386.55 L890.92,386.13 L892.05,385.71 L893.17,385.30 L894.30,384.89 L895.43,384.49 L896.56,384.09 L897.69,383.69 L898.83,383.30 L899.96,382.91 L901.10,382.53 L902.24,382.15 L903.38,381.77 L904.52,381.40 L905.66,381.03 L906.81,380.67 L907.95,380.30 L909.10,379.95 L910.24,379.59 L911.39,379.24 L912.54,378.90 L913.69,378.56 L914.84,378.22 L915.99,377.88 L917.15,377.55 L918.30,377.22 L919.45,376.90 L920.61,376.58 L921.77,376.26 L922.93,375.94 L924.09,375.63 L925.24,375.32 L926.41,375.02 L927.57,374.72 L928.73,374.42 L929.89,374.12 L931.06,373.83 L932.22,373.54 L933.39,373.26 L934.55,372.97 L935.72,372.69 L936.89,372.42 L938.06,372.14 L939.22,371.87 L940.39,371.60 L941.56,371.34 L942.74,371.08 L943.91,370.82 L945.08,370.56 L946.25,370.31 L947.43,370.05 L948.60,369.81 L949.77,369.56 L950.95,369.32 L952.12,369.08 L953.30,368.84 L954.48,368.60 L955.65,368.37 L956.83,368.14 L958.01,367.91 L959.19,367.68 L960.37,367.46 L961.55,367.24 L962.73,367.02 L963.91,366.80 L965.09,366.59 L966.27,366.37 L967.45,366.16 L968.63,365.96 L969.81,365.75 L971.00,365.55 L972.18,365.35 L972.20,365.34" stroke="#00a3ff" stroke-dasharray="1.7,6.54" stroke-dashoffset="0.00"/>
<path d="M445.76,1124.94 L446.04,1123.78 L446.32,1122.61 L446.61,1121.45 L446.90,1120.28 L447.19,1119.12 L447.48,1117.95 L447.77,1116.79 L448.06,1115.62 L448.35,1114.46 L448.65,1113.30 L448.95,1112.14 L449.24,1110.97 L449.54,1109.81 L449.84,1108.65 L450.14,1107.49 L450.44,1106.33 L450.75,1105.16 L451.05,1104.00 L451.36,1102.84 L451.67,1101.68 L451.97,1100.52 L452.28,1099.36 L452.59,1098.21 L452.91,1097.05 L453.22,1095.89 L453.53,1094.73 L453.85,1093.57 L454.17,1092.41 L454.48,1091.26 L454.80,1090.10 L455.12,1088.94 L455.45,1087.79 L455.77,1086.63 L456.09,1085.48 L456.42,1084.32 L456.75,1083.17 L457.07,1082.01 L457.40,1080.86 L457.73,1079.71 L458.07,1078.55 L458.40,1077.40 L458.73,1076.25 L459.07,1075.10 L459.40,1073.94 L459.74,1072.79 L460.08,1071.64 L460.42,1070.49 L460.76,1069.34 L461.11,1068.19 L461.45,1067.04 L461.80,1065.89 L462.14,1064.74 L462.49,1063.59 L462.84,1062.45 L463.19,1061.30 L463.54,1060.15 L463.90,1059.00 L464.25,1057.86 L464.61,1056.71 L464.96,1055.57 L465.32,1054.42 L465.68,1053.28 L466.04,1052.13 L466.40,1050.99 L466.77,1049.84 L467.13,1048.70 L467.50,1047.56 L467.86,1046.41 L468.23,1045.27 L468.60,1044.13 L468.97,1042.99 L469.34,1041.85 L469.72,1040.71 L470.09,1039.57 L470.47,1038.43 L470.84,1037.29 L471.22,1036.15 L471.60,1035.01 L471.98,1033.87 L472.36,1032.74 L472.75,1031.60 L473.13,1030.46 L473.52,1029.33 L473.90,1028.19 L474.29,1027.05 L474.68,1025.92 L475.07,1024.78 L475.46,1023.65 L475.86,1022.52 L476.25,1021.38 L476.65,1020.25 L477.05,1019.12 L477.44,1017.99 L477.84,1016.86 L478.24,1015.72 L478.65,1014.59 L479.05,1013.46 L479.46,1012.33 L479.86,1011.20 L480.27,1010.08 L480.68,1008.95 L481.09,1007.82 L481.50,1006.69 L481.91,1005.57 L482.32,1004.44 L482.74,1003.31 L483.15,1002.19 L483.57,1001.06 L483.99,999.94 L484.41,998.81 L484.83,997.69 L485.25,996.57 L485.68,995.44 L486.10,994.32 L486.53,993.20 L486.96,992.08 L487.39,990.96 L487.82,989.84 L488.25,988.72 L488.68,987.60 L489.11,986.48 L489.55,985.36 L489.99,984.24 L490.42,983.13 L490.86,982.01 L491.30,980.89 L491.74,979.78 L492.19,978.66 L492.63,977.55 L493.08,976.43 L493.52,975.32 L493.97,974.21 L494.42,973.09 L494.87,971.98 L495.32,970.87 L495.78,969.76 L496.23,968.65 L496.68,967.54 L497.14,966.43 L497.60,965.32 L498.06,964.21 L498.52,963.10 L498.98,961.99 L499.44,960.89 L499.91,959.78 L500.38,958.67 L500.84,957.57 L501.31,956.46 L501.78,955.36 L502.25,954.26 L502.72,953.15 L503.20,952.05 L503.67,950.95 L504.15,949.85 L504.62,948.75 L505.10,947.65 L505.58,946.55 L506.06,945.45 L506.55,944.35 L507.03,943.25 L507.52,942.15 L508.00,941.05 L508.49,939.96 L508.98,938.86 L509.47,937.77 L509.96,936.67 L510.45,935.58 L510.95,934.48 L511.44,933.39 L511.94,932.30 L512.44,931.21 L512.94,930.12 L513.44,929.03 L513.94,927.94 L514.44,926.85 L514.95,925.76 L515.45,924.67 L515.96,923.58 L516.47,922.50 L516.98,921.41 L517.49,920.32 L518.00,919.24 L518.52,918.15 L519.03,917.07 L519.55,915.99 L520.06,914.90 L520.58,913.82 L521.10,912.74 L521.63,911.66 L522.15,910.58 L522.67,909.50 L523.20,908.42 L523.73,907.34 L524.25,906.27 L524.78,905.19 L525.31,904.11 L525.85,903.04 L526.38,901.96 L526.92,900.89 L527.45,899.82 L527.99,898.74 L528.53,897.67 L529.07,896.60 L529.61,895.53 L530.15,894.46 L530.70,893.39 L531.24,892.32 L531.79,891.25 L532.34,890.19 L532.89,889.12 L533.44,888.05 L533.99,886.99 L534.55,885.92 L535.10,884.86 L535.66,883.80 L536.22,882.73 L536.78,881.67 L537.34,880.61 L537.90,879.55 L538.47,878.49 L539.03,877.43 L539.60,876.38 L540.17,875.32 L540.74,874.26 L541.31,873.21 L541.88,872.15 L542.45,871.10 L543.03,870.05 L543.61,868.99 L544.18,867.94 L544.76,866.89 L545.34,865.84 L545.93,864.79 L546.51,863.74 L547.10,862.70 L547.68,861.65 L548.27,860.60 L548.86,859.56 L549.45,858.52 L550.05,857.47 L550.64,856.43 L551.24,855.39 L551.83,854.35 L552.43,853.31 L553.03,852.27 L553.63,851.23 L554.24,850.19 L554.84,849.16 L555.45,848.12 L556.05,847.09 L556.66,846.05 L557.27,845.02 L557.89,843.99 L558.50,842.96 L559.12,841.93 L559.73,840.90 L560.35,839.87 L560.97,838.84 L561.59,837.81 L562.22,836.79 L562.84,835.76 L563.47,834.74 L564.10,833.72 L564.73,832.70 L565.36,831.68 L565.99,830.66 L566.63,829.64 L567.26,828.62 L567.90,827.60 L568.54,826.59 L569.18,825.57 L569.82,824.56 L570.47,823.55 L571.11,822.54 L571.76,821.53 L572.41,820.52 L573.06,819.51 L573.71,818.50 L574.37,817.50 L575.02,816.49 L575.68,815.49 L576.34,814.49 L577.00,813.48 L577.67,812.48 L578.33,811.49 L579.00,810.49 L579.67,809.49 L580.34,808.50 L581.01,807.50 L581.68,806.51 L582.36,805.52 L583.03,804.53 L583.71,803.54 L584.39,802.55 L585.08,801.56 L585.76,800.57 L586.45,799.59 L587.13,798.61 L587.82,797.63 L588.52,796.64 L589.21,795.67 L589.90,794.69 L590.60,793.71 L591.30,792.74 L592.00,791.76 L592.70,790.79 L593.41,789.82 L594.12,788.85 L594.83,787.88 L595.54,786.91 L596.25,785.95 L596.96,784.98 L597.68,784.02 L598.40,783.06 L599.12,782.10 L599.84,781.14 L600.57,780.19 L601.29,779.23 L602.02,778.28 L602.75,777.32 L603.48,776.37 L604.22,775.43 L604.95,774.48 L605.69,773.53 L606.43,772.59 L607.18,771.65 L607.92,770.70 L608.67,769.77 L609.42,768.83 L610.17,767.89 L610.92,766.96 L611.68,766.03 L612.44,765.10 L613.19,764.17 L613.96,763.24 L614.72,762.31 L615.49,761.39 L616.26,760.47 L617.03,759.55 L617.80,758.63 L618.57,757.71 L619.35,756.80 L620.13,755.89 L620.91,754.98 L621.70,754.07 L622.48,753.16 L623.27,752.26 L624.06,751.35 L624.85,750.45 L625.65,749.55 L626.45,748.66 L627.25,747.76 L628.05,746.87 L628.85,745.98 L629.66,745.09 L630.47,744.21 L631.28,743.32 L632.09,742.44 L632.91,741.56 L633.73,740.68 L634.55,739.81 L635.37,738.93 L636.20,738.06 L637.03,737.19 L637.86,736.33 L638.69,735.46 L639.52,734.60 L640.36,733.74 L641.20,732.89 L642.04,732.03 L642.89,731.18 L643.74,730.33 L644.58,729.48 L645.44,728.64 L646.29,727.79 L647.15,726.95 L648.01,726.12 L648.87,725.28 L649.73,724.45 L650.60,723.62 L651.47,722.79 L652.34,721.97 L653.22,721.15 L654.09,720.33 L654.97,719.51 L655.85,718.70 L656.74,717.88 L657.62,717.08 L658.51,716.27 L659.40,715.47 L660.30,714.67 L661.20,713.87 L662.09,713.07 L663.00,712.28 L663.90,711.49 L664.81,710.71 L665.72,709.92 L666.63,709.14 L667.54,708.36 L668.46,707.59 L669.38,706.82 L670.30,706.05 L671.22,705.28 L672.15,704.52 L673.08,703.76 L674.01,703.00 L674.94,702.25 L675.88,701.50 L676.82,700.75 L677.76,700.01 L678.70,699.27 L679.65,698.53 L680.60,697.79 L681.55,697.06 L682.50,696.33 L683.45,695.60 L684.41,694.88 L685.37,694.16 L686.34,693.45 L687.30,692.73 L688.27,692.02 L689.24,691.32 L690.21,690.61 L691.18,689.91 L692.16,689.22 L693.14,688.52 L694.12,687.83 L695.11,687.14 L696.09,686.46 L697.08,685.78 L698.07,685.10 L699.06,684.43 L700.06,683.76 L701.06,683.09 L702.06,682.43 L703.06,681.77 L704.06,681.11 L705.07,680.46 L706.08,679.80 L707.09,679.16 L708.10,678.51 L709.11,677.87 L710.13,677.23 L711.15,676.60 L712.17,675.97 L713.19,675.34 L714.22,674.72 L715.25,674.10 L716.27,673.48 L717.31,672.87 L718.34,672.26 L719.37,671.65 L720.41,671.05 L721.45,670.44 L722.49,669.85 L723.53,669.25 L724.58,668.66 L725.62,668.08 L726.67,667.49 L727.72,666.91 L728.77,666.33 L729.83,665.76 L730.88,665.19 L731.94,664.62 L733.00,664.05 L734.06,663.49 L735.12,662.94 L736.19,662.38 L737.25,661.83 L738.32,661.28 L739.39,660.73 L740.46,660.19 L741.53,659.65 L742.60,659.12 L743.68,658.59 L744.76,658.06 L745.83,657.53 L746.91,657.01 L748.00,656.49 L749.08,655.97 L750.16,655.45 L751.25,654.94 L752.34,654.43 L753.42,653.93 L754.51,653.43 L755.61,652.93 L756.70,652.43 L757.79,651.94 L758.89,651.45 L759.98,650.96 L761.08,650.48 L762.18,649.99 L763.28,649.51 L764.38,649.04 L765.48,648.57 L766.59,648.09 L767.69,647.63 L768.80,647.16 L769.91,646.70 L771.02,646.24 L772.13,645.78 L773.24,645.33 L774.35,644.88 L775.46,644.43 L776.57,643.98 L777.69,643.54 L778.81,643.10 L779.92,642.66 L781.04,642.22 L782.16,641.79 L783.28,641.36 L784.40,640.93 L785.52,640.50 L786.64,640.08 L787.77,639.66 L788.89,639.24 L790.02,638.82 L791.14,638.41 L792.27,638.00 L793.40,637.59 L794.53,637.18 L795.66,636.78 L796.79,636.37 L797.92,635.97 L799.05,635.58 L800.18,635.18 L801.32,634.79 L802.45,634.39 L803.59,634.01 L804.72,633.62 L805.86,633.23 L807.00,632.85 L808.14,632.47 L809.27,632.09 L810.41,631.71 L811.55,631.34 L812.69,630.97 L813.83,630.59 L814.98,630.22 L816.12,629.86 L817.26,629.49 L818.41,629.13 L819.55,628.77 L820.70,628.41 L821.84,628.05 L822.99,627.69 L824.13,627.34 L825.28,626.99 L826.43,626.64 L827.58,626.29 L828.72,625.94 L829.87,625.60 L831.02,625.25 L832.17,624.91 L833.32,624.57 L834.48,624.23 L835.63,623.90 L836.78,623.56 L837.93,623.23 L839.09,622.89 L840.24,622.56 L841.39,622.23 L842.55,621.91 L843.70,621.58 L844.86,621.26 L846.01,620.93 L847.17,620.61 L848.33,620.29 L849.48,619.97 L850.64,619.66 L851.80,619.34 L852.96,619.03 L854.11,618.71 L855.27,618.40 L856.43,618.09 L857.59,617.78 L858.75,617.47 L859.91,617.17 L861.07,616.86 L862.23,616.56 L863.40,616.26 L864.56,615.96 L865.72,615.66 L866.88,615.36 L868.04,615.06 L869.21,614.76 L870.37,614.47 L871.53,614.18 L872.70,613.88 L873.86,613.59 L875.03,613.30 L876.19,613.01 L877.36,612.73 L878.52,612.44 L879.69,612.15 L880.85,611.87 L882.02,611.58 L883.18,611.30 L884.35,611.02 L885.52,610.74 L886.68,610.46 L887.85,610.18 L889.02,609.91 L890.19,609.63 L891.36,609.36 L892.52,609.08 L893.69,608.81 L894.86,608.54 L896.03,608.26 L897.20,607.99 L898.37,607.73 L899.54,607.46 L900.71,607.19 L901.88,606.92 L903.05,606.66 L904.22,606.39 L905.39,606.13 L906.56,605.87 L907.73,605.61 L908.90,605.34 L910.07,605.08 L911.25,604.83 L912.42,604.57 L913.59,604.31 L914.76,604.05 L915.93,603.80 L917.11,603.54 L918.28,603.29 L919.45,603.04 L920.63,602.78 L921.80,602.53 L922.97,602.28 L924.15,602.03 L925.32,601.78 L926.49,601.53 L927.67,601.28 L928.84,601.04 L930.02,600.79 L931.19,600.55 L932.37,600.30 L933.54,600.06 L934.72,599.81 L935.89,599.57 L937.07,599.33 L938.24,599.09 L939.42,598.85 L940.59,598.61 L941.77,598.37 L942.95,598.13 L944.12,597.89 L945.30,597.66 L946.48,597.42 L947.65,597.18 L948.83,596.95 L950.01,596.72 L951.18,596.48 L952.36,596.25 L953.54,596.02 L954.71,595.79 L955.89,595.55 L957.07,595.32 L958.25,595.09 L959.43,594.87 L960.60,594.64 L961.78,594.41 L962.96,594.18 L964.14,593.96 L965.32,593.73 L966.50,593.50 L967.67,593.28 L968.85,593.06 L970.03,592.83 L971.21,592.61 L972.20,592.42" stroke="#44c400" stroke-dasharray="1.7,6.54" stroke-dashoffset="0.00"/>
<path d="M490.60,1125.33 L490.83,1124.15 L491.06,1122.98 L491.29,1121.80 L491.52,1120.62 L491.76,1119.44 L491.99,1118.27 L492.23,1117.09 L492.46,1115.91 L492.70,1114.74 L492.94,1113.56 L493.18,1112.39 L493.42,1111.21 L493.67,1110.04 L493.91,1108.86 L494.16,1107.69 L494.40,1106.51 L494.65,1105.34 L494.90,1104.16 L495.15,1102.99 L495.40,1101.82 L495.66,1100.65 L495.91,1099.47 L496.17,1098.30 L496.42,1097.13 L496.68,1095.96 L496.94,1094.78 L497.20,1093.61 L497.46,1092.44 L497.73,1091.27 L497.99,1090.10 L498.26,1088.93 L498.52,1087.76 L498.79,1086.59 L499.06,1085.42 L499.33,1084.25 L499.60,1083.08 L499.88,1081.91 L500.15,1080.75 L500.43,1079.58 L500.70,1078.41 L500.98,1077.24 L501.26,1076.08 L501.54,1074.91 L501.82,1073.74 L502.11,1072.58 L502.39,1071.41 L502.68,1070.25 L502.97,1069.08 L503.26,1067.92 L503.55,1066.75 L503.84,1065.59 L504.13,1064.42 L504.42,1063.26 L504.72,1062.10 L505.01,1060.94 L505.31,1059.77 L505.61,1058.61 L505.91,1057.45 L506.21,1056.29 L506.52,1055.13 L506.82,1053.97 L507.13,1052.81 L507.44,1051.65 L507.74,1050.49 L508.05,1049.33 L508.37,1048.17 L508.68,1047.01 L508.99,1045.85 L509.31,1044.69 L509.62,1043.54 L509.94,1042.38 L510.26,1041.22 L510.58,1040.07 L510.90,1038.91 L511.23,1037.75 L511.55,1036.60 L511.88,1035.44 L512.21,1034.29 L512.53,1033.14 L512.86,1031.98 L513.20,1030.83 L513.53,1029.68 L513.86,1028.52 L514.20,1027.37 L514.54,1026.22 L514.87,1025.07 L515.21,1023.92 L515.56,1022.77 L515.90,1021.62 L516.24,1020.47 L516.59,1019.32 L516.93,1018.17 L517.28,1017.02 L517.63,1015.87 L517.98,1014.72 L518.34,1013.58 L518.69,1012.43 L519.05,1011.28 L519.40,1010.14 L519.76,1008.99 L520.12,1007.85 L520.48,1006.70 L520.84,1005.56 L521.21,1004.42 L521.57,1003.27 L521.94,1002.13 L522.30,1000.99 L522.67,999.85 L523.04,998.71 L523.42,997.56 L523.79,996.42 L524.17,995.28 L524.54,994.14 L524.92,993.01 L525.30,991.87 L525.68,990.73 L526.06,989.59 L526.44,988.45 L526.83,987.32 L527.22,986.18 L527.60,985.05 L527.99,983.91 L528.38,982.78 L528.78,981.64 L529.17,980.51 L529.56,979.38 L529.96,978.24 L530.36,977.11 L530.76,975.98 L531.16,974.85 L531.56,973.72 L531.97,972.59 L532.37,971.46 L532.78,970.33 L533.18,969.20 L533.59,968.07 L534.01,966.95 L534.42,965.82 L534.83,964.69 L535.25,963.57 L535.66,962.44 L536.08,961.32 L536.50,960.19 L536.92,959.07 L537.35,957.95 L537.77,956.82 L538.20,955.70 L538.62,954.58 L539.05,953.46 L539.48,952.34 L539.91,951.22 L540.35,950.10 L540.78,948.98 L541.22,947.86 L541.66,946.75 L542.10,945.63 L542.54,944.51 L542.98,943.40 L543.42,942.28 L543.87,941.17 L544.31,940.05 L544.76,938.94 L545.21,937.83 L545.66,936.72 L546.12,935.61 L546.57,934.49 L547.03,933.38 L547.48,932.28 L547.94,931.17 L548.40,930.06 L548.86,928.95 L549.33,927.84 L549.79,926.74 L550.26,925.63 L550.73,924.53 L551.20,923.42 L551.67,922.32 L552.14,921.22 L552.61,920.11 L553.09,919.01 L553.57,917.91 L554.05,916.81 L554.53,915.71 L555.01,914.61 L555.49,913.51 L555.98,912.42 L556.47,911.32 L556.95,910.22 L557.44,909.13 L557.94,908.03 L558.43,906.94 L558.92,905.85 L559.42,904.75 L559.92,903.66 L560.42,902.57 L560.92,901.48 L561.42,900.39 L561.93,899.30 L562.43,898.22 L562.94,897.13 L563.45,896.04 L563.96,894.96 L564.47,893.87 L564.99,892.79 L565.50,891.70 L566.02,890.62 L566.54,889.54 L567.06,888.46 L567.58,887.38 L568.11,886.30 L568.63,885.22 L569.16,884.14 L569.69,883.06 L570.22,881.99 L570.76,880.91 L571.29,879.84 L571.83,878.77 L572.36,877.69 L572.90,876.62 L573.45,875.55 L573.99,874.48 L574.53,873.41 L575.08,872.34 L575.63,871.27 L576.18,870.21 L576.73,869.14 L577.28,868.08 L577.84,867.01 L578.40,865.95 L578.95,864.89 L579.52,863.83 L580.08,862.77 L580.64,861.71 L581.21,860.65 L581.78,859.59 L582.35,858.54 L582.92,857.48 L583.49,856.43 L584.07,855.38 L584.64,854.32 L585.22,853.27 L585.80,852.22 L586.39,851.17 L586.97,850.13 L587.56,849.08 L588.15,848.03 L588.74,846.99 L589.33,845.94 L589.92,844.90 L590.52,843.86 L591.12,842.82 L591.72,841.78 L592.32,840.74 L592.92,839.71 L593.53,838.67 L594.14,837.64 L594.75,836.60 L595.36,835.57 L595.97,834.54 L596.59,833.51 L597.21,832.48 L597.83,831.45 L598.45,830.43 L599.07,829.40 L599.70,828.38 L600.33,827.36 L600.96,826.33 L601.59,825.31 L602.22,824.30 L602.86,823.28 L603.50,822.26 L604.14,821.25 L604.78,820.24 L605.43,819.22 L606.07,818.21 L606.72,817.20 L607.38,816.20 L608.03,815.19 L608.69,814.19 L609.34,813.18 L610.01,812.18 L610.67,811.18 L611.33,810.18 L612.00,809.18 L612.67,808.19 L613.34,807.19 L614.02,806.20 L614.69,805.21 L615.37,804.22 L616.05,803.23 L616.74,802.25 L617.42,801.26 L618.11,800.28 L618.80,799.30 L619.50,798.32 L620.19,797.34 L620.89,796.37 L621.59,795.39 L622.30,794.42 L623.00,793.45 L623.71,792.48 L624.42,791.51 L625.13,790.55 L625.85,789.59 L626.57,788.62 L627.29,787.66 L628.01,786.71 L628.74,785.75 L629.47,784.80 L630.20,783.85 L630.93,782.90 L631.67,781.95 L632.41,781.00 L633.15,780.06 L633.89,779.12 L634.64,778.18 L635.39,777.24 L636.14,776.31 L636.90,775.38 L637.66,774.45 L638.42,773.52 L639.18,772.59 L639.95,771.67 L640.72,770.75 L641.49,769.83 L642.26,768.91 L643.04,768.00 L643.82,767.09 L644.61,766.18 L645.39,765.27 L646.18,764.37 L646.97,763.47 L647.77,762.57 L648.57,761.68 L649.37,760.78 L650.17,759.89 L650.98,759.00 L651.79,758.12 L652.60,757.24 L653.42,756.36 L654.24,755.48 L655.06,754.60 L655.89,753.73 L656.72,752.87 L657.55,752.00 L658.38,751.14 L659.22,750.28 L660.06,749.42 L660.90,748.57 L661.75,747.72 L662.60,746.87 L663.45,746.03 L664.31,745.19 L665.17,744.35 L666.03,743.52 L666.90,742.69 L667.77,741.86 L668.64,741.04 L669.52,740.21 L670.40,739.40 L671.28,738.58 L672.16,737.77 L673.05,736.97 L673.94,736.16 L674.84,735.36 L675.74,734.57 L676.64,733.78 L677.54,732.99 L678.45,732.20 L679.36,731.42 L680.27,730.64 L681.19,729.87 L682.11,729.10 L683.04,728.34 L683.96,727.57 L684.89,726.82 L685.83,726.06 L686.77,725.31 L687.71,724.57 L688.65,723.82 L689.59,723.09 L690.54,722.35 L691.50,721.62 L692.45,720.90 L693.41,720.18 L694.38,719.46 L695.34,718.75 L696.31,718.04 L697.28,717.34 L698.26,716.64 L699.23,715.94 L700.22,715.25 L701.20,714.56 L702.19,713.88 L703.18,713.20 L704.17,712.53 L705.17,711.86 L706.17,711.20 L707.17,710.54 L708.17,709.88 L709.18,709.23 L710.19,708.59 L711.21,707.95 L712.23,707.31 L713.25,706.68 L714.27,706.05 L715.29,705.43 L716.32,704.81 L717.35,704.20 L718.39,703.59 L719.42,702.98 L720.46,702.38 L721.51,701.79 L722.55,701.20 L723.60,700.61 L724.65,700.03 L725.70,699.45 L726.76,698.88 L727.81,698.32 L728.87,697.75 L729.94,697.20 L731.00,696.64 L732.07,696.10 L733.14,695.55 L734.21,695.02 L735.29,694.48 L736.36,693.95 L737.44,693.43 L738.52,692.91 L739.61,692.39 L740.69,691.88 L741.78,691.38 L742.87,690.87 L743.97,690.38 L745.06,689.89 L746.16,689.40 L747.25,688.91 L748.35,688.44 L749.46,687.96 L750.56,687.49 L751.67,687.03 L752.78,686.57 L753.89,686.11 L755.00,685.66 L756.11,685.21 L757.23,684.77 L758.34,684.33 L759.46,683.89 L760.58,683.46 L761.70,683.04 L762.83,682.62 L763.95,682.20 L765.08,681.78 L766.21,681.38 L767.34,680.97 L768.47,680.57 L769.60,680.17 L770.73,679.78 L771.87,679.39 L773.00,679.01 L774.14,678.62 L775.28,678.25 L776.42,677.87 L777.56,677.51 L778.71,677.14 L779.85,676.78 L781.00,676.42 L782.14,676.07 L783.29,675.72 L784.44,675.37 L785.59,675.03 L786.74,674.69 L787.89,674.35 L789.05,674.02 L790.20,673.69 L791.35,673.36 L792.51,673.04 L793.67,672.72 L794.83,672.41 L795.98,672.09 L797.14,671.79 L798.30,671.48 L799.47,671.18 L800.63,670.88 L801.79,670.58 L802.95,670.29 L804.12,670.00 L805.28,669.71 L806.45,669.43 L807.62,669.15 L808.78,668.87 L809.95,668.60 L811.12,668.33 L812.29,668.06 L813.46,667.79 L814.63,667.53 L815.80,667.27 L816.98,667.01 L818.15,666.76 L819.32,666.50 L820.50,666.26 L821.67,666.01 L822.84,665.76 L824.02,665.52 L825.20,665.28 L826.37,665.05 L827.55,664.81 L828.73,664.58 L829.90,664.35 L831.08,664.13 L832.26,663.90 L833.44,663.68 L834.62,663.46 L835.80,663.24 L836.98,663.03 L838.16,662.82 L839.34,662.60 L840.53,662.40 L841.71,662.19 L842.89,661.99 L844.07,661.78 L845.26,661.59 L846.44,661.39 L847.62,661.19 L848.81,661.00 L849.99,660.81 L851.18,660.62 L852.36,660.43 L853.55,660.24 L854.73,660.06 L855.92,659.88 L857.11,659.70 L858.29,659.52 L859.48,659.34 L860.67,659.17 L861.86,659.00 L863.04,658.83 L864.23,658.66 L865.42,658.49 L866.61,658.33 L867.80,658.16 L868.99,658.00 L870.18,657.84 L871.37,657.68 L872.55,657.52 L873.74,657.37 L874.93,657.21 L876.12,657.06 L877.32,656.91 L878.51,656.76 L879.70,656.61 L880.89,656.47 L882.08,656.32 L883.27,656.18 L884.46,656.04 L885.65,655.90 L886.85,655.76 L888.04,655.62 L889.23,655.48 L890.42,655.35 L891.62,655.22 L892.81,655.08 L894.00,654.95 L895.19,654.82 L896.39,654.70 L897.58,654.57 L898.77,654.44 L899.97,654.32 L901.16,654.20 L902.35,654.08 L903.55,653.96 L904.74,653.84 L905.94,653.72 L907.13,653.60 L908.33,653.49 L909.52,653.37 L910.72,653.26 L911.91,653.15 L913.10,653.04 L914.30,652.93 L915.49,652.82 L916.69,652.71 L917.89,652.61 L919.08,652.50 L920.28,652.40 L921.47,652.30 L922.67,652.19 L923.86,652.09 L925.06,651.99 L926.26,651.90 L927.45,651.80 L928.65,651.70 L929.84,651.61 L931.04,651.51 L932.24,651.42 L933.43,651.33 L934.63,651.24 L935.83,651.15 L937.02,651.06 L938.22,650.97 L939.42,650.88 L940.61,650.79 L941.81,650.71 L943.01,650.62 L944.20,650.54 L945.40,650.46 L946.60,650.38 L947.80,650.30 L948.99,650.22 L950.19,650.14 L951.39,650.06 L952.59,649.98 L953.78,649.91 L954.98,649.83 L956.18,649.76 L957.38,649.69 L958.57,649.61 L959.77,649.54 L960.97,649.47 L962.17,649.40 L963.37,649.33 L964.56,649.26 L965.76,649.20 L966.96,649.13 L968.16,649.07 L969.36,649.00 L970.56,648.94 L971.75,648.87 L972.20,648.85" stroke="#0034ff" stroke-dasharray="9.6,14.6" stroke-dashoffset="0.00"/>
<path d="M555.47,1125.57 L555.96,1124.47 L556.44,1123.37 L556.93,1122.28 L557.42,1121.18 L557.91,1120.09 L558.41,1118.99 L558.90,1117.90 L559.40,1116.81 L559.89,1115.72 L560.39,1114.62 L560.89,1113.53 L561.40,1112.44 L561.90,1111.36 L562.41,1110.27 L562.92,1109.18 L563.43,1108.09 L563.94,1107.01 L564.45,1105.92 L564.96,1104.84 L565.48,1103.76 L566.00,1102.67 L566.52,1101.59 L567.04,1100.51 L567.56,1099.43 L568.08,1098.35 L568.61,1097.27 L569.14,1096.19 L569.67,1095.12 L570.20,1094.04 L570.73,1092.97 L571.26,1091.89 L571.80,1090.82 L572.34,1089.74 L572.88,1088.67 L573.42,1087.60 L573.96,1086.53 L574.51,1085.46 L575.05,1084.39 L575.60,1083.33 L576.15,1082.26 L576.70,1081.19 L577.26,1080.13 L577.81,1079.07 L578.37,1078.00 L578.93,1076.94 L579.49,1075.88 L580.05,1074.82 L580.61,1073.76 L581.18,1072.70 L581.75,1071.65 L582.32,1070.59 L582.89,1069.53 L583.46,1068.48 L584.04,1067.43 L584.62,1066.37 L585.19,1065.32 L585.78,1064.27 L586.36,1063.22 L586.94,1062.18 L587.53,1061.13 L588.12,1060.08 L588.71,1059.04 L589.30,1058.00 L589.89,1056.95 L590.49,1055.91 L591.09,1054.87 L591.69,1053.83 L592.29,1052.79 L592.89,1051.76 L593.50,1050.72 L594.11,1049.69 L594.72,1048.65 L595.33,1047.62 L595.94,1046.59 L596.56,1045.56 L597.18,1044.53 L597.80,1043.50 L598.42,1042.48 L599.04,1041.45 L599.67,1040.43 L600.30,1039.40 L600.93,1038.38 L601.56,1037.36 L602.19,1036.35 L602.83,1035.33 L603.47,1034.31 L604.11,1033.30 L604.75,1032.28 L605.40,1031.27 L606.04,1030.26 L606.69,1029.25 L607.34,1028.25 L608.00,1027.24 L608.65,1026.23 L609.31,1025.23 L609.97,1024.23 L610.64,1023.23 L611.30,1022.23 L611.97,1021.23 L612.64,1020.24 L613.31,1019.24 L613.98,1018.25 L614.66,1017.26 L615.34,1016.27 L616.02,1015.28 L616.71,1014.30 L617.39,1013.31 L618.08,1012.33 L618.77,1011.35 L619.46,1010.37 L620.16,1009.39 L620.86,1008.41 L621.56,1007.44 L622.26,1006.47 L622.97,1005.50 L623.67,1004.53 L624.39,1003.56 L625.10,1002.60 L625.81,1001.63 L626.53,1000.67 L627.25,999.71 L627.98,998.75 L628.70,997.80 L629.43,996.84 L630.16,995.89 L630.90,994.94 L631.63,994.00 L632.37,993.05 L633.11,992.11 L633.86,991.17 L634.60,990.23 L635.35,989.29 L636.11,988.36 L636.86,987.42 L637.62,986.49 L638.38,985.56 L639.14,984.64 L639.91,983.72 L640.68,982.79 L641.45,981.88 L642.23,980.96 L643.00,980.05 L643.78,979.13 L644.57,978.23 L645.35,977.32 L646.14,976.41 L646.94,975.51 L647.73,974.61 L648.53,973.72 L649.33,972.83 L650.13,971.93 L650.94,971.05 L651.75,970.16 L652.56,969.28 L653.38,968.40 L654.20,967.52 L655.02,966.65 L655.85,965.78 L656.68,964.91 L657.51,964.04 L658.34,963.18 L659.18,962.32 L660.02,961.46 L660.86,960.61 L661.71,959.76 L662.56,958.91 L663.41,958.07 L664.27,957.23 L665.13,956.39 L665.99,955.56 L666.86,954.73 L667.73,953.90 L668.60,953.08 L669.47,952.25 L670.35,951.44 L671.23,950.62 L672.12,949.81 L673.01,949.01 L673.90,948.20 L674.79,947.40 L675.69,946.61 L676.59,945.81 L677.50,945.03 L678.41,944.24 L679.32,943.46 L680.23,942.68 L681.15,941.91 L682.07,941.14 L682.99,940.37 L683.92,939.61 L684.85,938.85 L685.78,938.10 L686.72,937.35 L687.66,936.60 L688.60,935.86 L689.55,935.12 L690.50,934.39 L691.45,933.66 L692.41,932.93 L693.37,932.21 L694.33,931.50 L695.29,930.78 L696.26,930.07 L697.23,929.37 L698.21,928.67 L699.19,927.98 L700.17,927.28 L701.15,926.60 L702.14,925.92 L703.13,925.24 L704.12,924.56 L705.12,923.90 L706.12,923.23 L707.12,922.57 L708.13,921.92 L709.13,921.26 L710.14,920.62 L711.16,919.98 L712.18,919.34 L713.20,918.71 L714.22,918.08 L715.24,917.46 L716.27,916.84 L717.30,916.22 L718.34,915.62 L719.37,915.01 L720.41,914.41 L721.46,913.82 L722.50,913.23 L723.55,912.64 L724.60,912.06 L725.65,911.48 L726.71,910.91 L727.76,910.34 L728.82,909.78 L729.89,909.22 L730.95,908.67 L732.02,908.12 L733.09,907.58 L734.16,907.04 L735.24,906.51 L736.31,905.98 L737.39,905.45 L738.47,904.93 L739.56,904.42 L740.64,903.91 L741.73,903.40 L742.82,902.90 L743.91,902.40 L745.01,901.91 L746.10,901.42 L747.20,900.94 L748.30,900.46 L749.40,899.98 L750.51,899.51 L751.61,899.05 L752.72,898.59 L753.83,898.13 L754.94,897.68 L756.06,897.23 L757.17,896.79 L758.29,896.35 L759.41,895.91 L760.53,895.48 L761.65,895.06 L762.77,894.64 L763.90,894.22 L765.02,893.80 L766.15,893.40 L767.28,892.99 L768.41,892.59 L769.54,892.19 L770.68,891.80 L771.81,891.41 L772.95,891.02 L774.09,890.64 L775.23,890.27 L776.37,889.89 L777.51,889.52 L778.65,889.16 L779.80,888.80 L780.94,888.44 L782.09,888.08 L783.24,887.73 L784.38,887.39 L785.53,887.04 L786.68,886.70 L787.84,886.37 L788.99,886.03 L790.14,885.70 L791.30,885.38 L792.45,885.06 L793.61,884.74 L794.77,884.42 L795.93,884.11 L797.09,883.80 L798.25,883.49 L799.41,883.19 L800.57,882.89 L801.73,882.60 L802.90,882.30 L804.06,882.01 L805.23,881.73 L806.39,881.44 L807.56,881.16 L808.73,880.89 L809.90,880.61 L811.06,880.34 L812.23,880.07 L813.40,879.80 L814.58,879.54 L815.75,879.28 L816.92,879.02 L818.09,878.77 L819.26,878.52 L820.44,878.27 L821.61,878.02 L822.79,877.78 L823.96,877.53 L825.14,877.30 L826.32,877.06 L827.49,876.82 L828.67,876.59 L829.85,876.36 L831.03,876.14 L832.20,875.91 L833.38,875.69 L834.56,875.47 L835.74,875.25 L836.92,875.04 L838.11,874.83 L839.29,874.62 L840.47,874.41 L841.65,874.20 L842.83,874.00 L844.02,873.79 L845.20,873.59 L846.38,873.40 L847.57,873.20 L848.75,873.01 L849.94,872.82 L851.12,872.63 L852.31,872.44 L853.49,872.25 L854.68,872.07 L855.86,871.89 L857.05,871.71 L858.24,871.53 L859.42,871.35 L860.61,871.18 L861.80,871.01 L862.99,870.84 L864.17,870.67 L865.36,870.50 L866.55,870.33 L867.74,870.17 L868.93,870.01 L870.12,869.85 L871.31,869.69 L872.50,869.53 L873.69,869.37 L874.88,869.22 L876.07,869.07 L877.26,868.92 L878.45,868.77 L879.64,868.62 L880.83,868.47 L882.02,868.33 L883.21,868.19 L884.40,868.04 L885.60,867.90 L886.79,867.76 L887.98,867.63 L889.17,867.49 L890.36,867.36 L891.56,867.22 L892.75,867.09 L893.94,866.96 L895.14,866.83 L896.33,866.70 L897.52,866.58 L898.72,866.45 L899.91,866.33 L901.10,866.20 L902.30,866.08 L903.49,865.96 L904.69,865.84 L905.88,865.72 L907.07,865.61 L908.27,865.49 L909.46,865.38 L910.66,865.27 L911.85,865.15 L913.05,865.04 L914.24,864.93 L915.44,864.83 L916.63,864.72 L917.83,864.61 L919.02,864.51 L920.22,864.40 L921.41,864.30 L922.61,864.20 L923.81,864.10 L925.00,864.00 L926.20,863.90 L927.39,863.80 L928.59,863.71 L929.79,863.61 L930.98,863.52 L932.18,863.42 L933.37,863.33 L934.57,863.24 L935.77,863.15 L936.96,863.06 L938.16,862.97 L939.36,862.88 L940.56,862.80 L941.75,862.71 L942.95,862.63 L944.15,862.55 L945.34,862.46 L946.54,862.38 L947.74,862.30 L948.94,862.22 L950.13,862.14 L951.33,862.06 L952.53,861.99 L953.73,861.91 L954.92,861.84 L956.12,861.76 L957.32,861.69 L958.52,861.62 L959.71,861.55 L960.91,861.47 L962.11,861.40 L963.31,861.34 L964.51,861.27 L965.70,861.20 L966.90,861.13 L968.10,861.07 L969.30,861.00 L970.50,860.94 L971.70,860.88 L972.20,860.85" stroke="#00a3ff" stroke-dasharray="9.6,14.6" stroke-dashoffset="0.00"/>
<path d="M327.46,1125.71 L327.78,1124.55 L328.10,1123.39 L328.42,1122.24 L328.74,1121.08 L329.06,1119.93 L329.38,1118.77 L329.71,1117.62 L330.04,1116.46 L330.36,1115.31 L330.69,1114.15 L331.02,1113.00 L331.35,1111.84 L331.69,1110.69 L332.02,1109.54 L332.35,1108.39 L332.69,1107.23 L333.03,1106.08 L333.37,1104.93 L333.71,1103.78 L334.05,1102.63 L334.39,1101.48 L334.73,1100.33 L335.08,1099.18 L335.42,1098.03 L335.77,1096.88 L336.12,1095.74 L336.47,1094.59 L336.82,1093.44 L337.17,1092.29 L337.53,1091.15 L337.88,1090.00 L338.24,1088.85 L338.59,1087.71 L338.95,1086.56 L339.31,1085.42 L339.67,1084.27 L340.04,1083.13 L340.40,1081.99 L340.77,1080.84 L341.13,1079.70 L341.50,1078.56 L341.87,1077.42 L342.24,1076.27 L342.61,1075.13 L342.98,1073.99 L343.35,1072.85 L343.73,1071.71 L344.10,1070.57 L344.48,1069.43 L344.86,1068.29 L345.24,1067.16 L345.62,1066.02 L346.00,1064.88 L346.39,1063.74 L346.77,1062.61 L347.16,1061.47 L347.55,1060.34 L347.93,1059.20 L348.32,1058.07 L348.72,1056.93 L349.11,1055.80 L349.50,1054.66 L349.90,1053.53 L350.29,1052.40 L350.69,1051.27 L351.09,1050.13 L351.49,1049.00 L351.89,1047.87 L352.29,1046.74 L352.70,1045.61 L353.10,1044.48 L353.51,1043.35 L353.92,1042.22 L354.33,1041.10 L354.74,1039.97 L355.15,1038.84 L355.56,1037.71 L355.97,1036.59 L356.39,1035.46 L356.81,1034.34 L357.22,1033.21 L357.64,1032.09 L358.06,1030.96 L358.48,1029.84 L358.91,1028.72 L359.33,1027.59 L359.76,1026.47 L360.18,1025.35 L360.61,1024.23 L361.04,1023.11 L361.47,1021.99 L361.90,1020.87 L362.34,1019.75 L362.77,1018.63 L363.21,1017.51 L363.64,1016.39 L364.08,1015.28 L364.52,1014.16 L364.96,1013.05 L365.40,1011.93 L365.85,1010.81 L366.29,1009.70 L366.74,1008.59 L367.18,1007.47 L367.63,1006.36 L368.08,1005.25 L368.53,1004.13 L368.98,1003.02 L369.44,1001.91 L369.89,1000.80 L370.35,999.69 L370.81,998.58 L371.26,997.47 L371.72,996.36 L372.19,995.26 L372.65,994.15 L373.11,993.04 L373.58,991.94 L374.04,990.83 L374.51,989.73 L374.98,988.62 L375.45,987.52 L375.92,986.41 L376.39,985.31 L376.87,984.21 L377.34,983.11 L377.82,982.01 L378.30,980.90 L378.78,979.80 L379.26,978.70 L379.74,977.61 L380.22,976.51 L380.71,975.41 L381.19,974.31 L381.68,973.22 L382.17,972.12 L382.66,971.02 L383.15,969.93 L383.64,968.83 L384.14,967.74 L384.63,966.65 L385.13,965.56 L385.63,964.46 L386.13,963.37 L386.63,962.28 L387.13,961.19 L387.63,960.10 L388.13,959.01 L388.64,957.92 L389.15,956.84 L389.66,955.75 L390.17,954.66 L390.68,953.58 L391.19,952.49 L391.70,951.41 L392.22,950.32 L392.73,949.24 L393.25,948.16 L393.77,947.08 L394.29,946.00 L394.81,944.91 L395.34,943.83 L395.86,942.76 L396.39,941.68 L396.91,940.60 L397.44,939.52 L397.97,938.44 L398.50,937.37 L399.04,936.29 L399.57,935.22 L400.11,934.15 L400.64,933.07 L401.18,932.00 L401.72,930.93 L402.26,929.86 L402.80,928.79 L403.35,927.72 L403.89,926.65 L404.44,925.58 L404.99,924.51 L405.54,923.44 L406.09,922.38 L406.64,921.31 L407.19,920.25 L407.75,919.18 L408.30,918.12 L408.86,917.06 L409.42,916.00 L409.98,914.94 L410.54,913.88 L411.11,912.82 L411.67,911.76 L412.24,910.70 L412.81,909.64 L413.38,908.59 L413.95,907.53 L414.52,906.48 L415.09,905.42 L415.67,904.37 L416.24,903.32 L416.82,902.27 L417.40,901.21 L417.98,900.16 L418.57,899.12 L419.15,898.07 L419.74,897.02 L420.32,895.97 L420.91,894.93 L421.50,893.88 L422.09,892.84 L422.69,891.80 L423.28,890.75 L423.88,889.71 L424.48,888.67 L425.08,887.63 L425.68,886.59 L426.28,885.56 L426.88,884.52 L427.49,883.48 L428.10,882.45 L428.70,881.41 L429.32,880.38 L429.93,879.35 L430.54,878.32 L431.16,877.29 L431.77,876.26 L432.39,875.23 L433.01,874.20 L433.63,873.17 L434.26,872.15 L434.88,871.12 L435.51,870.10 L436.14,869.08 L436.76,868.06 L437.40,867.04 L438.03,866.02 L438.66,865.00 L439.30,863.98 L439.94,862.97 L440.58,861.95 L441.22,860.94 L441.86,859.92 L442.51,858.91 L443.16,857.90 L443.80,856.89 L444.45,855.88 L445.11,854.87 L445.76,853.87 L446.41,852.86 L447.07,851.86 L447.73,850.86 L448.39,849.85 L449.05,848.85 L449.72,847.85 L450.38,846.86 L451.05,845.86 L451.72,844.86 L452.39,843.87 L453.07,842.88 L453.74,841.88 L454.42,840.89 L455.10,839.90 L455.78,838.92 L456.46,837.93 L457.15,836.94 L457.83,835.96 L458.52,834.98 L459.21,833.99 L459.90,833.01 L460.60,832.03 L461.29,831.06 L461.99,830.08 L462.69,829.11 L463.39,828.13 L464.10,827.16 L464.80,826.19 L465.51,825.22 L466.22,824.25 L466.93,823.29 L467.64,822.32 L468.36,821.36 L469.08,820.40 L469.80,819.44 L470.52,818.48 L471.24,817.52 L471.97,816.57 L472.70,815.61 L473.43,814.66 L474.16,813.71 L474.89,812.76 L475.63,811.81 L476.37,810.87 L477.11,809.92 L477.85,808.98 L478.60,808.04 L479.34,807.10 L480.09,806.16 L480.85,805.23 L481.60,804.29 L482.36,803.36 L483.11,802.43 L483.87,801.50 L484.64,800.58 L485.40,799.65 L486.17,798.73 L486.94,797.81 L487.71,796.89 L488.48,795.97 L489.26,795.06 L490.04,794.14 L490.82,793.23 L491.60,792.32 L492.38,791.41 L493.17,790.51 L493.96,789.60 L494.75,788.70 L495.55,787.80 L496.34,786.91 L497.14,786.01 L497.94,785.12 L498.75,784.23 L499.55,783.34 L500.36,782.45 L501.17,781.57 L501.99,780.68 L502.80,779.80 L503.62,778.93 L504.44,778.05 L505.26,777.18 L506.09,776.30 L506.92,775.44 L507.75,774.57 L508.58,773.71 L509.41,772.84 L510.25,771.98 L511.09,771.13 L511.93,770.27 L512.78,769.42 L513.63,768.57 L514.48,767.72 L515.33,766.88 L516.18,766.04 L517.04,765.20 L517.90,764.36 L518.76,763.53 L519.63,762.69 L520.50,761.87 L521.37,761.04 L522.24,760.21 L523.11,759.39 L523.99,758.57 L524.87,757.76 L525.75,756.95 L526.64,756.14 L527.53,755.33 L528.42,754.52 L529.31,753.72 L530.20,752.92 L531.10,752.13 L532.00,751.33 L532.90,750.54 L533.81,749.75 L534.72,748.97 L535.63,748.19 L536.54,747.41 L537.45,746.63 L538.37,745.86 L539.29,745.09 L540.22,744.32 L541.14,743.56 L542.07,742.80 L543.00,742.04 L543.93,741.28 L544.87,740.53 L545.80,739.78 L546.74,739.04 L547.69,738.29 L548.63,737.55 L549.58,736.82 L550.53,736.09 L551.48,735.36 L552.44,734.63 L553.39,733.90 L554.35,733.18 L555.32,732.47 L556.28,731.75 L557.25,731.04 L558.22,730.34 L559.19,729.63 L560.16,728.93 L561.14,728.23 L562.12,727.54 L563.10,726.85 L564.08,726.16 L565.07,725.47 L566.06,724.79 L567.05,724.12 L568.04,723.44 L569.03,722.77 L570.03,722.10 L571.03,721.44 L572.03,720.78 L573.03,720.12 L574.04,719.46 L575.05,718.81 L576.06,718.16 L577.07,717.52 L578.08,716.88 L579.10,716.24 L580.12,715.61 L581.14,714.97 L582.16,714.35 L583.19,713.72 L584.21,713.10 L585.24,712.48 L586.27,711.87 L587.31,711.26 L588.34,710.65 L589.38,710.04 L590.41,709.44 L591.46,708.84 L592.50,708.25 L593.54,707.66 L594.59,707.07 L595.64,706.49 L596.69,705.90 L597.74,705.33 L598.79,704.75 L599.84,704.18 L600.90,703.61 L601.96,703.04 L603.02,702.48 L604.08,701.92 L605.15,701.37 L606.21,700.81 L607.28,700.27 L608.35,699.72 L609.42,699.18 L610.49,698.64 L611.56,698.10 L612.64,697.57 L613.71,697.03 L614.79,696.51 L615.87,695.98 L616.95,695.46 L618.03,694.94 L619.12,694.43 L620.20,693.91 L621.29,693.40 L622.37,692.90 L623.46,692.39 L624.55,691.89 L625.65,691.40 L626.74,690.90 L627.83,690.41 L628.93,689.92 L630.03,689.43 L631.12,688.95 L632.22,688.47 L633.33,687.99 L634.43,687.52 L635.53,687.04 L636.63,686.57 L637.74,686.11 L638.85,685.64 L639.95,685.18 L641.06,684.72 L642.17,684.27 L643.28,683.81 L644.40,683.36 L645.51,682.91 L646.62,682.47 L647.74,682.02 L648.85,681.58 L649.97,681.14 L651.09,680.71 L652.21,680.27 L653.33,679.84 L654.45,679.41 L655.57,678.99 L656.69,678.56 L657.82,678.14 L658.94,677.72 L660.07,677.30 L661.19,676.89 L662.32,676.48 L663.45,676.07 L664.57,675.66 L665.70,675.25 L666.83,674.85 L667.96,674.45 L669.10,674.05 L670.23,673.65 L671.36,673.26 L672.50,672.86 L673.63,672.47 L674.77,672.08 L675.90,671.70 L677.04,671.31 L678.18,670.93 L679.31,670.55 L680.45,670.17 L681.59,669.79 L682.73,669.42 L683.87,669.04 L685.01,668.67 L686.15,668.30 L687.30,667.94 L688.44,667.57 L689.58,667.21 L690.73,666.84 L691.87,666.48 L693.02,666.13 L694.16,665.77 L695.31,665.41 L696.46,665.06 L697.60,664.71 L698.75,664.36 L699.90,664.01 L701.05,663.66 L702.20,663.32 L703.35,662.97 L704.50,662.63 L705.65,662.29 L706.80,661.95 L707.95,661.62 L709.10,661.28 L710.26,660.95 L711.41,660.61 L712.56,660.28 L713.72,659.95 L714.87,659.62 L716.02,659.30 L717.18,658.97 L718.33,658.65 L719.49,658.32 L720.65,658.00 L721.80,657.68 L722.96,657.36 L724.12,657.05 L725.27,656.73 L726.43,656.42 L727.59,656.10 L728.75,655.79 L729.91,655.48 L731.07,655.17 L732.23,654.86 L733.39,654.55 L734.55,654.25 L735.71,653.94 L736.87,653.64 L738.03,653.34 L739.19,653.04 L740.35,652.74 L741.52,652.44 L742.68,652.14 L743.84,651.84 L745.01,651.55 L746.17,651.25 L747.33,650.96 L748.50,650.67 L749.66,650.38 L750.82,650.09 L751.99,649.80 L753.15,649.51 L754.32,649.22 L755.48,648.94 L756.65,648.65 L757.82,648.37 L758.98,648.08 L760.15,647.80 L761.32,647.52 L762.48,647.24 L763.65,646.96 L764.82,646.68 L765.98,646.41 L767.15,646.13 L768.32,645.86 L769.49,645.58 L770.66,645.31 L771.83,645.03 L772.99,644.76 L774.16,644.49 L775.33,644.22 L776.50,643.95 L777.67,643.68 L778.84,643.42 L780.01,643.15 L781.18,642.88 L782.35,642.62 L783.52,642.36 L784.69,642.09 L785.86,641.83 L787.03,641.57 L788.21,641.31 L789.38,641.05 L790.55,640.79 L791.72,640.53 L792.89,640.27 L794.07,640.01 L795.24,639.76 L796.41,639.50 L797.58,639.25 L798.76,638.99 L799.93,638.74 L801.10,638.49 L802.27,638.23 L803.45,637.98 L804.62,637.73 L805.80,637.48 L806.97,637.23 L808.14,636.98 L809.32,636.74 L810.49,636.49 L811.67,636.24 L812.84,636.00 L814.02,635.75 L815.19,635.51 L816.36,635.26 L817.54,635.02 L818.72,634.78 L819.89,634.54 L821.07,634.30 L822.24,634.06 L823.42,633.82 L824.59,633.58 L825.77,633.34 L826.95,633.10 L828.12,632.86 L829.30,632.62 L830.47,632.39 L831.65,632.15 L832.83,631.92 L834.00,631.68 L835.18,631.45 L836.36,631.22 L837.54,630.98 L838.71,630.75 L839.89,630.52 L841.07,630.29 L842.25,630.06 L843.42,629.83 L844.60,629.60 L845.78,629.37 L846.96,629.14 L848.14,628.91 L849.31,628.69 L850.49,628.46 L851.67,628.23 L852.85,628.01 L854.03,627.78 L855.21,627.56 L856.39,627.34 L857.57,627.11 L858.74,626.89 L859.92,626.67 L861.10,626.45 L862.28,626.22 L863.46,626.00 L864.64,625.78 L865.82,625.56 L867.00,625.34 L868.18,625.13 L869.36,624.91 L870.54,624.69 L871.72,624.47 L872.90,624.26 L874.08,624.04 L875.26,623.82 L876.44,623.61 L877.62,623.39 L878.80,623.18 L879.99,622.97 L881.17,622.75 L882.35,622.54 L883.53,622.33 L884.71,622.12 L885.89,621.91 L887.07,621.69 L888.25,621.48 L889.44,621.27 L890.62,621.06 L891.80,620.86 L892.98,620.65 L894.16,620.44 L895.34,620.23 L896.53,620.02 L897.71,619.82 L898.89,619.61 L900.07,619.41 L901.25,619.20 L902.44,619.00 L903.62,618.79 L904.80,618.59 L905.98,618.38 L907.17,618.18 L908.35,617.98 L909.53,617.78 L910.72,617.57 L911.90,617.37 L913.08,617.17 L914.26,616.97 L915.45,616.77 L916.63,616.57 L917.81,616.37 L919.00,616.17 L920.18,615.98 L921.37,615.78 L922.55,615.58 L923.73,615.38 L924.92,615.19 L926.10,614.99 L927.28,614.80 L928.47,614.60 L929.65,614.41 L930.84,614.21 L932.02,614.02 L933.21,613.82 L934.39,613.63 L935.57,613.44 L936.76,613.25 L937.94,613.05 L939.13,612.86 L940.31,612.67 L941.50,612.48 L942.68,612.29 L943.87,612.10 L945.05,611.91 L946.24,611.72 L947.42,611.54 L948.61,611.35 L949.79,611.16 L950.98,610.97 L952.16,610.79 L953.35,610.60 L954.53,610.41 L955.72,610.23 L956.91,610.04 L958.09,609.86 L959.28,609.67 L960.46,609.49 L961.65,609.31 L962.83,609.12 L964.02,608.94 L965.21,608.76 L966.39,608.58 L967.58,608.40 L968.77,608.22 L969.95,608.03 L971.14,607.85 L972.20,607.69" stroke="#44c400" stroke-dasharray="9.6,14.6" stroke-dashoffset="0.00"/>
</g>
<g fill="none" stroke-linecap="round">
<path d="M327.77,1124.58 L327.98,1123.81 L328.19,1123.04 L328.41,1122.27 L328.62,1121.50 L328.84,1120.73 L329.05,1119.96 L329.27,1119.19 L329.48,1118.42 L329.70,1117.65 L329.92,1116.88 L330.14,1116.11 L330.35,1115.34 L330.57,1114.57 L330.79,1113.80 L331.01,1113.03 L331.23,1112.26 L331.45,1111.49 L331.68,1110.72 L331.90,1109.95 L332.12,1109.19 L332.35,1108.42 L332.57,1107.65 L332.79,1106.88 L333.02,1106.11 L333.24,1105.35 L333.47,1104.58 L333.70,1103.81 L333.92,1103.04 L334.15,1102.28 L334.38,1101.51 L334.61,1100.74 L334.84,1099.98 L335.07,1099.21 L335.30,1098.45 L335.53,1097.68 L335.76,1096.91 L335.99,1096.15 L336.23,1095.38 L336.46,1094.62 L336.69,1093.85 L336.93,1093.09 L337.16,1092.32 L337.40,1091.56 L337.64,1090.79 L337.87,1090.03 L338.11,1089.27 L338.35,1088.50 L338.59,1087.74 L338.82,1086.97 L339.06,1086.21 L339.30,1085.45 L339.54,1084.69 L339.79,1083.92 L340.03,1083.16 L340.27,1082.40 L340.51,1081.64 L340.76,1080.87 L341.00,1080.11 L341.24,1079.35 L341.49,1078.59 L341.73,1077.83 L341.98,1077.07 L342.23,1076.30 L342.47,1075.54 L342.72,1074.78 L342.97,1074.02 L343.22,1073.26 L343.47,1072.50 L343.72,1071.74 L343.97,1070.98 L344.22,1070.22 L344.47,1069.46 L344.72,1068.70 L344.98,1067.95 L345.23,1067.19 L345.48,1066.43 L345.74,1065.67 L345.99,1064.91 L346.25,1064.15 L346.51,1063.39 L346.76,1062.64 L347.02,1061.88 L347.28,1061.12 L347.54,1060.37 L347.80,1059.61 L348.05,1058.85 L348.31,1058.10 L348.58,1057.34 L348.84,1056.58 L349.10,1055.83 L349.36,1055.07 L349.62,1054.32 L349.89,1053.56 L350.15,1052.80 L350.42,1052.05 L350.68,1051.30 L350.95,1050.54 L351.21,1049.79 L351.48,1049.03 L351.75,1048.28 L352.01,1047.52 L352.28,1046.77 L352.55,1046.02 L352.82,1045.26 L353.09,1044.51 L353.36,1043.76 L353.63,1043.01 L353.91,1042.25 L354.18,1041.50 L354.45,1040.75 L354.73,1040.00 L355.00,1039.25 L355.27,1038.49 L355.55,1037.74 L355.82,1036.99 L356.10,1036.24 L356.38,1035.49 L356.66,1034.74 L356.93,1033.99 L357.21,1033.24 L357.49,1032.49 L357.77,1031.74 L358.05,1030.99 L358.33,1030.24 L358.61,1029.49 L358.90,1028.75 L359.18,1028.00 L359.46,1027.25 L359.75,1026.50 L360.03,1025.75 L360.31,1025.01 L360.60,1024.26 L360.89,1023.51 L361.17,1022.76 L361.46,1022.02 L361.75,1021.27 L362.04,1020.52 L362.32,1019.78 L362.61,1019.03 L362.90,1018.29 L363.19,1017.54 L363.49,1016.80 L363.78,1016.05 L364.07,1015.31 L364.36,1014.56 L364.66,1013.82 L364.95,1013.07 L365.24,1012.33 L365.54,1011.59 L365.83,1010.84 L366.13,1010.10 L366.43,1009.36 L366.72,1008.61 L367.02,1007.87 L367.32,1007.13 L367.62,1006.39 L367.92,1005.65 L368.22,1004.90 L368.52,1004.16 L368.82,1003.42 L369.12,1002.68 L369.43,1001.94 L369.73,1001.20 L370.03,1000.46 L370.34,999.72 L370.64,998.98 L370.95,998.24 L371.25,997.50 L371.56,996.76 L371.87,996.02 L372.17,995.29 L372.48,994.55 L372.79,993.81 L373.10,993.07 L373.41,992.33 L373.72,991.60 L374.03,990.86 L374.34,990.12 L374.66,989.39 L374.97,988.65 L375.28,987.91 L375.60,987.18 L375.91,986.44 L376.22,985.71 L376.54,984.97 L376.86,984.24 L377.17,983.50 L377.49,982.77 L377.81,982.03 L378.13,981.30 L378.45,980.57 L378.77,979.83 L379.09,979.10 L379.41,978.37 L379.73,977.63 L380.05,976.90 L380.37,976.17 L380.70,975.44 L381.02,974.71 L381.34,973.98 L381.67,973.24 L381.99,972.51 L382.32,971.78 L382.65,971.05 L382.97,970.32 L383.30,969.59 L383.63,968.86 L383.96,968.13 L384.29,967.41 L384.62,966.68 L384.95,965.95 L385.28,965.22 L385.61,964.49 L385.95,963.76 L386.28,963.04 L386.61,962.31 L386.95,961.58 L387.28,960.86 L387.62,960.13 L387.95,959.40 L388.29,958.68 L388.63,957.95 L388.96,957.23 L389.30,956.50 L389.64,955.78 L389.98,955.05 L390.32,954.33 L390.66,953.61 L391.00,952.88 L391.35,952.16 L391.69,951.44 L392.03,950.71 L392.38,949.99 L392.72,949.27 L393.07,948.55 L393.41,947.83 L393.76,947.10 L394.10,946.38 L394.45,945.66 L394.80,944.94 L395.15,944.22 L395.50,943.50 L395.85,942.78 L396.20,942.06 L396.55,941.34 L396.90,940.63 L397.25,939.91 L397.60,939.19 L397.95,938.47 L398.30,937.75 L398.65,937.03 L399.00,936.31 L399.35,935.59 L399.70,934.87 L400.05,934.15 L400.40,933.44 L400.76,932.72 L401.11,932.00 L401.46,931.28 L401.81,930.56 L402.17,929.85 L402.52,929.13 L402.88,928.41 L403.23,927.69 L403.58,926.98 L403.94,926.26 L404.30,925.54 L404.65,924.83 L405.01,924.11 L405.36,923.39 L405.72,922.68 L406.08,921.96 L406.44,921.25 L406.79,920.53 L407.15,919.82 L407.51,919.10 L407.87,918.39 L408.23,917.67 L408.59,916.96 L408.95,916.24 L409.31,915.53 L409.67,914.81 L410.03,914.10 L410.40,913.39 L410.76,912.68 L411.12,911.96 L411.49,911.25 L411.85,910.54 L412.21,909.83 L412.58,909.11 L412.94,908.40 L413.31,907.69 L413.68,906.98 L414.04,906.27 L414.41,905.56 L414.78,904.85 L415.15,904.14 L415.51,903.43 L415.88,902.72 L416.25,902.01 L416.62,901.30 L416.99,900.59 L417.36,899.88 L417.74,899.17 L418.11,898.46 L418.48,897.75 L418.85,897.05 L419.23,896.34 L419.60,895.63 L419.97,894.92 L420.35,894.22 L420.73,893.51 L421.10,892.81 L421.48,892.10 L421.85,891.39 L422.23,890.69 L422.61,889.98 L422.99,889.28 L423.37,888.57 L423.75,887.87 L424.13,887.17 L424.51,886.46 L424.89,885.76 L425.27,885.06 L425.65,884.35 L426.03,883.65 L426.42,882.95 L426.80,882.25 L427.19,881.54 L427.57,880.84 L427.96,880.14 L428.34,879.44 L428.73,878.74 L429.12,878.04 L429.50,877.34 L429.89,876.64 L430.28,875.94 L430.67,875.24 L431.06,874.54 L431.45,873.85 L431.84,873.15 L432.23,872.45 L432.62,871.75 L433.02,871.06 L433.41,870.36 L433.80,869.66 L434.20,868.97 L434.59,868.27 L434.99,867.58 L435.38,866.88 L435.78,866.19 L436.18,865.49 L436.57,864.80 L436.97,864.10 L437.37,863.41 L437.77,862.72 L438.17,862.02 L438.57,861.33 L438.97,860.64 L439.38,859.95 L439.78,859.26 L440.18,858.57 L440.58,857.87 L440.99,857.18 L441.39,856.49 L441.80,855.80 L442.21,855.12 L442.61,854.43 L443.02,853.74 L443.43,853.05 L443.84,852.36 L444.25,851.67 L444.66,850.99 L445.07,850.30 L445.48,849.61 L445.89,848.93 L446.30,848.24 L446.71,847.56 L447.13,846.87 L447.54,846.19 L447.96,845.50 L448.37,844.82 L448.79,844.14 L449.20,843.45 L449.62,842.77 L450.04,842.09 L450.46,841.41 L450.88,840.73 L451.30,840.05 L451.72,839.37 L452.14,838.69 L452.56,838.01 L452.98,837.33 L453.41,836.65 L453.83,835.97 L454.26,835.29 L454.68,834.61 L455.11,833.94 L455.53,833.26 L455.96,832.58 L456.39,831.91 L456.81,831.23 L457.24,830.55 L457.67,829.88 L458.10,829.21 L458.53,828.53 L458.96,827.86 L459.40,827.18 L459.83,826.51 L460.26,825.84 L460.70,825.17 L461.13,824.49 L461.57,823.82 L462.00,823.15 L462.44,822.48 L462.87,821.81 L463.31,821.14 L463.75,820.47 L464.19,819.80 L464.63,819.14 L465.07,818.47 L465.51,817.80 L465.95,817.13 L466.40,816.47 L466.84,815.80 L467.28,815.13 L467.73,814.47 L468.17,813.80 L468.62,813.14 L469.06,812.48 L469.51,811.81 L469.96,811.15 L470.41,810.49 L470.86,809.83 L471.31,809.16 L471.76,808.50 L472.21,807.84 L472.66,807.18 L473.11,806.52 L473.57,805.86 L474.02,805.21 L474.48,804.55 L474.93,803.89 L475.39,803.23 L475.84,802.58 L476.30,801.92 L476.76,801.26 L477.22,800.61 L477.68,799.95 L478.14,799.30 L478.60,798.65 L479.06,797.99 L479.52,797.34 L479.99,796.69 L480.45,796.04 L480.92,795.39 L481.38,794.73 L481.85,794.08 L482.32,793.43 L482.78,792.79 L483.25,792.14 L483.72,791.49 L484.19,790.84 L484.66,790.19 L485.13,789.55 L485.60,788.90 L486.08,788.26 L486.55,787.61 L487.03,786.97 L487.50,786.32 L487.98,785.68 L488.45,785.04 L488.93,784.40 L489.41,783.76 L489.89,783.11 L490.37,782.47 L490.85,781.83 L491.33,781.19 L491.81,780.56 L492.29,779.92 L492.77,779.28 L493.26,778.64 L493.74,778.01 L494.23,777.37 L494.71,776.74 L495.20,776.10 L495.69,775.47 L496.18,774.83 L496.67,774.20 L497.16,773.57 L497.65,772.94 L498.14,772.31 L498.63,771.67 L499.12,771.04 L499.62,770.42 L500.11,769.79 L500.61,769.16 L501.10,768.53 L501.60,767.90 L502.10,767.28 L502.60,766.65 L503.10,766.03 L503.60,765.40 L504.10,764.78 L504.60,764.15 L505.10,763.53 L505.60,762.91 L506.11,762.29 L506.61,761.67 L507.12,761.05 L507.62,760.43 L508.13,759.81 L508.64,759.19 L509.15,758.57 L509.66,757.96 L510.17,757.34 L510.68,756.72 L511.19,756.11 L511.70,755.49 L512.21,754.88 L512.73,754.27 L513.24,753.65 L513.76,753.04 L514.27,752.43 L514.79,751.82 L515.31,751.21 L515.83,750.60 L516.35,749.99 L516.87,749.39 L517.39,748.78 L517.91,748.17 L518.43,747.57 L518.95,746.96 L519.48,746.36 L520.00,745.75 L520.53,745.15 L521.05,744.55 L521.58,743.94 L522.11,743.34 L522.64,742.74 L523.17,742.14 L523.70,741.54 L524.23,740.95 L524.76,740.35 L525.29,739.75 L525.83,739.15 L526.36,738.56 L526.90,737.96 L527.43,737.37 L527.97,736.78 L528.50,736.18 L529.04,735.59 L529.58,735.00 L530.12,734.41 L530.66,733.82 L531.20,733.23 L531.74,732.64 L532.29,732.05 L532.83,731.47 L533.37,730.88 L533.92,730.29 L534.46,729.71 L535.01,729.12 L535.56,728.54 L536.11,727.96 L536.65,727.38 L537.20,726.79 L537.75,726.21 L538.30,725.63 L538.86,725.05 L539.41,724.48 L539.96,723.90 L540.52,723.32 L541.07,722.74 L541.63,722.17 L542.18,721.59 L542.74,721.02 L543.30,720.45 L543.86,719.87 L544.42,719.30 L544.98,718.73 L545.54,718.16 L546.10,717.59 L546.66,717.02 L547.22,716.45 L547.79,715.89 L548.35,715.32 L548.92,714.75 L549.48,714.19 L550.05,713.62 L550.62,713.06 L551.19,712.50 L551.76,711.93 L552.33,711.37 L552.90,710.81 L553.47,710.25 L554.04,709.69 L554.61,709.14 L555.19,708.58 L555.76,708.02 L556.34,707.46 L556.91,706.91 L557.49,706.36 L558.07,705.80 L558.65,705.25 L559.22,704.70 L559.80,704.14 L560.38,703.59 L560.96,703.04 L561.55,702.49 L562.13,701.95 L562.71,701.40 L563.30,700.85 L563.88,700.31 L564.47,699.76 L565.05,699.22 L565.64,698.67 L566.23,698.13 L566.82,697.59 L567.40,697.05 L567.99,696.51 L568.59,695.97 L569.18,695.43 L569.77,694.89 L570.36,694.35 L570.95,693.82 L571.55,693.28 L572.14,692.75 L572.74,692.21 L573.34,691.68 L573.93,691.15 L574.53,690.61 L575.13,690.08 L575.73,689.55 L576.33,689.02 L576.93,688.49 L577.53,687.97 L578.13,687.44 L578.73,686.91 L579.34,686.39 L579.94,685.86 L580.55,685.34 L581.15,684.82 L581.76,684.30 L582.37,683.78 L582.97,683.25 L583.57,682.72 L584.16,682.18 L584.74,681.63 L585.32,681.08 L585.90,680.52 L586.47,679.96 L587.04,679.40 L587.60,678.84 L588.17,678.27 L588.73,677.70 L589.28,677.12 L589.84,676.55 L590.39,675.97 L590.94,675.39 L591.49,674.81 L592.04,674.22 L592.58,673.63 L593.12,673.05 L593.66,672.45 L594.20,671.86 L594.73,671.27 L595.27,670.67 L595.80,670.08 L596.33,669.48 L596.86,668.88 L597.39,668.28 L597.92,667.67 L598.44,667.07 L598.96,666.46 L599.48,665.86 L600.01,665.25 L600.52,664.64 L601.04,664.03 L601.56,663.42 L602.07,662.81 L602.59,662.20 L603.10,661.58 L603.61,660.97 L604.12,660.35 L604.63,659.73 L605.14,659.12 L605.65,658.50 L606.15,657.88 L606.66,657.26 L607.16,656.64 L607.66,656.01 L608.17,655.39 L608.67,654.77 L609.17,654.14 L609.67,653.52 L610.17,652.89 L610.66,652.27 L611.16,651.64 L611.66,651.01 L612.15,650.38 L612.64,649.75 L613.14,649.12 L613.63,648.49 L614.12,647.86 L614.61,647.23 L615.10,646.60 L615.59,645.96 L616.08,645.33 L616.57,644.70 L617.06,644.06 L617.54,643.43 L618.03,642.79 L618.52,642.16 L619.00,641.52 L619.48,640.88 L619.97,640.25 L620.45,639.61 L620.93,638.97 L621.42,638.33 L621.90,637.69 L622.38,637.05 L622.86,636.41 L623.34,635.77 L623.82,635.13 L624.30,634.49 L624.78,633.85 L625.25,633.21 L625.73,632.57 L626.21,631.93 L626.68,631.28 L627.16,630.64 L627.64,630.00 L628.11,629.35 L628.58,628.71 L629.06,628.07 L629.53,627.42 L630.01,626.78 L630.48,626.13 L630.95,625.49 L631.42,624.84 L631.90,624.19 L632.37,623.55 L632.84,622.90 L633.31,622.26 L633.78,621.61 L634.25,620.96 L634.72,620.31 L635.19,619.67 L635.66,619.02 L636.13,618.37 L636.60,617.72 L637.07,617.07 L637.54,616.43 L638.00,615.78 L638.47,615.13 L638.94,614.48 L639.41,613.83 L639.87,613.18 L640.34,612.53 L640.81,611.88 L641.27,611.23 L641.74,610.58 L642.21,609.93 L642.67,609.28 L643.14,608.63 L643.60,607.98 L644.07,607.33 L644.53,606.68 L645.00,606.03 L645.46,605.37 L645.93,604.72 L646.39,604.07 L646.86,603.42 L647.32,602.77 L647.79,602.12 L648.25,601.47 L648.71,600.81 L649.18,600.16 L649.64,599.51 L650.11,598.86 L650.57,598.21 L651.03,597.55 L651.50,596.90 L651.96,596.25 L652.42,595.60 L652.88,594.95 L653.35,594.29 L653.81,593.64 L654.27,592.99 L654.74,592.34 L655.20,591.68 L655.66,591.03 L656.12,590.38 L656.59,589.73 L657.05,589.07 L657.51,588.42 L657.98,587.77 L658.44,587.11 L658.90,586.46 L659.36,585.81 L659.83,585.16 L660.29,584.50 L660.75,583.85 L661.21,583.20 L661.68,582.55 L662.14,581.89 L662.60,581.24 L663.06,580.59 L663.53,579.94 L663.99,579.28 L664.45,578.63 L664.92,577.98 L665.38,577.33 L665.84,576.67 L666.31,576.02 L666.77,575.37 L667.23,574.72 L667.70,574.06 L668.16,573.41 L668.62,572.76 L669.09,572.11 L669.55,571.46 L670.01,570.81 L670.48,570.15 L670.94,569.50 L671.41,568.85 L671.87,568.20 L672.33,567.55 L672.80,566.90 L673.26,566.24 L673.73,565.59 L674.19,564.94 L674.66,564.29 L675.12,563.64 L675.59,562.99 L676.06,562.34 L676.52,561.69 L676.99,561.04 L677.45,560.39 L677.92,559.74 L678.39,559.09 L678.85,558.44 L679.32,557.79 L679.79,557.14 L680.25,556.49 L680.72,555.84 L681.19,555.19 L681.66,554.54 L682.12,553.89 L682.59,553.25 L683.06,552.60 L683.53,551.95 L684.00,551.30 L684.47,550.65 L684.94,550.01 L685.41,549.36 L685.88,548.71 L686.35,548.06 L686.82,547.42 L687.29,546.77 L687.76,546.12 L688.23,545.48 L688.70,544.83 L689.17,544.18 L689.65,543.54 L690.12,542.89 L690.59,542.25 L691.06,541.60 L691.54,540.96 L692.01,540.31 L692.48,539.67 L692.96,539.02 L693.43,538.38 L693.91,537.73 L694.38,537.09 L694.86,536.45 L695.33,535.80 L695.81,535.16 L696.29,534.52 L696.76,533.88 L697.24,533.23 L697.72,532.59 L698.20,531.95 L698.67,531.31 L699.15,530.67 L699.63,530.03 L700.11,529.39 L700.59,528.75 L701.07,528.11 L701.55,527.47 L702.03,526.83 L702.51,526.19 L702.99,525.55 L703.48,524.91 L703.96,524.27 L704.44,523.63 L704.92,523.00 L705.41,522.36 L705.89,521.72 L706.38,521.09 L706.86,520.45 L707.35,519.81 L707.83,519.18 L708.32,518.54 L708.80,517.91 L709.29,517.27 L709.78,516.64 L710.27,516.00 L710.76,515.37 L711.24,514.74 L711.73,514.10 L712.22,513.47 L712.71,512.84 L713.21,512.21 L713.70,511.58 L714.19,510.95 L714.68,510.32 L715.17,509.69 L715.67,509.06 L716.16,508.43 L716.66,507.80 L717.15,507.17 L717.65,506.54 L718.14,505.91 L718.64,505.29 L719.14,504.66 L719.63,504.03 L720.13,503.41 L720.63,502.78 L721.13,502.16 L721.63,501.53 L722.13,500.91 L722.63,500.28 L723.13,499.66 L723.64,499.04 L724.14,498.42 L724.64,497.79 L725.15,497.17 L725.65,496.55 L726.16,495.93 L726.66,495.31 L727.17,494.69 L727.68,494.08 L728.18,493.46 L728.69,492.84 L729.20,492.22 L729.71,491.61 L730.22,490.99 L730.73,490.37 L731.24,489.76 L731.76,489.14 L732.27,488.53 L732.78,487.92 L733.30,487.30 L733.81,486.69 L734.33,486.08 L734.84,485.47 L735.36,484.86 L735.88,484.25 L736.40,483.64 L736.92,483.03 L737.44,482.42 L737.96,481.82 L738.48,481.21 L739.00,480.60 L739.52,480.00 L740.05,479.39 L740.57,478.79 L741.10,478.19 L741.62,477.58 L742.15,476.98 L742.68,476.38 L743.21,475.78 L743.73,475.18 L744.26,474.58 L744.79,473.98 L745.33,473.38 L745.86,472.79 L746.39,472.19 L746.93,471.59 L747.46,471.00 L748.00,470.40 L748.53,469.81 L749.07,469.22 L749.61,468.62 L750.15,468.03 L750.69,467.44 L751.23,466.85 L751.77,466.26 L752.31,465.68 L752.85,465.09 L753.40,464.50 L753.94,463.92 L754.49,463.33 L755.03,462.75 L755.58,462.16 L756.13,461.58 L756.68,461.00 L757.23,460.42 L757.78,459.84 L758.33,459.26 L758.89,458.68 L759.44,458.11 L759.99,457.53 L760.55,456.95 L761.11,456.38 L761.67,455.81 L762.22,455.23 L762.78,454.66 L763.34,454.09 L763.91,453.52 L764.47,452.95 L765.03,452.38 L765.60,451.82 L766.16,451.25 L766.73,450.69 L767.30,450.12 L767.86,449.56 L768.43,449.00 L769.00,448.44 L769.58,447.88 L770.15,447.32 L770.72,446.76 L771.30,446.20 L771.87,445.65 L772.45,445.09 L773.03,444.54 L773.61,443.99 L774.19,443.44 L774.77,442.89 L775.35,442.34 L775.93,441.79 L776.52,441.24 L777.10,440.70 L777.69,440.15 L778.27,439.61 L778.86,439.07 L779.45,438.53 L780.04,437.99 L780.63,437.45 L781.23,436.91 L781.82,436.38 L782.42,435.84 L783.01,435.31 L783.61,434.78 L784.21,434.25 L784.81,433.72 L785.41,433.19 L786.01,432.66 L786.61,432.13 L787.22,431.61 L787.82,431.09 L788.43,430.56 L789.03,430.04 L789.64,429.52 L790.25,429.01 L790.86,428.49 L791.48,427.97 L792.09,427.46 L792.70,426.95 L793.32,426.44 L793.94,425.93 L794.55,425.42 L795.17,424.91 L795.79,424.41 L796.41,423.90 L797.04,423.40 L797.66,422.90 L798.28,422.40 L798.91,421.90 L799.54,421.41 L800.17,420.91 L800.80,420.42 L801.43,419.92 L802.06,419.43 L802.69,418.95 L803.33,418.46 L803.96,417.97 L804.60,417.49 L805.24,417.00 L805.88,416.52 L806.52,416.04 L807.16,415.57 L807.80,415.09 L808.44,414.61 L809.09,414.14 L809.73,413.67 L810.38,413.20 L811.03,412.73 L811.23,412.58" stroke="#00a3ff" stroke-width="6.2" stroke-dasharray="0.01,10.24" stroke-dashoffset="-10.00"/>
<path d="M809.61,413.76 L810.26,413.29 L810.91,412.82 L811.56,412.35 L812.21,411.89 L812.86,411.42 L813.51,410.96 L814.17,410.50 L814.82,410.04 L815.48,409.58 L816.14,409.13 L816.80,408.68 L817.46,408.22 L818.12,407.77 L818.78,407.33 L819.44,406.88 L820.11,406.43 L820.78,405.99 L821.44,405.55 L822.11,405.11 L822.78,404.67 L823.45,404.24 L824.12,403.80 L824.80,403.37 L825.47,402.94 L826.15,402.51 L826.82,402.08 L827.50,401.66 L828.18,401.23 L828.86,400.81 L829.54,400.39 L830.22,399.97 L830.90,399.56 L831.59,399.14 L832.27,398.73 L832.96,398.32 L833.65,397.91 L834.34,397.50 L835.03,397.10 L835.72,396.69 L836.41,396.29 L837.10,395.89 L837.80,395.50 L838.49,395.10 L839.19,394.71 L839.89,394.31 L840.58,393.92 L841.28,393.54 L841.98,393.15 L842.69,392.76 L843.39,392.38 L844.09,392.00 L844.80,391.62 L845.50,391.24 L846.21,390.87 L846.92,390.50 L847.62,390.13 L848.33,389.76 L849.04,389.39 L849.76,389.02 L850.47,388.66 L851.18,388.30 L851.90,387.94 L852.61,387.58 L853.33,387.22 L854.05,386.87 L854.76,386.52 L855.48,386.17 L856.20,385.82 L856.92,385.47 L857.65,385.13 L858.37,384.78 L859.09,384.44 L859.82,384.10 L860.54,383.77 L861.27,383.43 L862.00,383.10 L862.72,382.77 L863.45,382.44 L864.18,382.11 L864.91,381.78 L865.65,381.46 L866.38,381.14 L867.11,380.82 L867.84,380.50 L868.58,380.18 L869.32,379.87 L870.05,379.55 L870.79,379.24 L871.53,378.93 L872.26,378.63 L873.00,378.32 L873.74,378.02 L874.49,377.72 L875.23,377.42 L875.97,377.12 L876.71,376.82 L877.46,376.53 L878.20,376.23 L878.95,375.94 L879.69,375.65 L880.44,375.36 L881.18,375.08 L881.93,374.79 L882.68,374.51 L883.43,374.23 L884.18,373.95 L884.93,373.68 L885.68,373.40 L886.43,373.13 L887.19,372.85 L887.94,372.58 L888.69,372.32 L889.45,372.05 L890.20,371.78 L890.96,371.52 L891.71,371.26 L892.47,371.00 L893.23,370.74 L893.98,370.48 L894.74,370.23 L895.50,369.97 L896.26,369.72 L897.02,369.47 L897.78,369.22 L898.54,368.97 L899.30,368.73 L900.06,368.48 L900.83,368.24 L901.59,368.00 L902.35,367.76 L903.12,367.52 L903.88,367.29 L904.65,367.05 L905.41,366.82 L906.18,366.59 L906.94,366.36 L907.71,366.13 L908.48,365.90 L909.24,365.68 L910.01,365.45 L910.78,365.23 L911.55,365.01 L912.32,364.79 L913.09,364.57 L913.86,364.35 L914.63,364.14 L915.40,363.92 L916.17,363.71 L916.94,363.50 L917.71,363.29 L918.49,363.08 L919.26,362.87 L920.03,362.67 L920.80,362.46 L921.58,362.26 L922.35,362.06 L923.13,361.86 L923.90,361.66 L924.68,361.46 L925.45,361.26 L926.23,361.07 L927.00,360.87 L927.78,360.68 L928.56,360.49 L929.33,360.30 L930.11,360.11 L930.89,359.92 L931.67,359.73 L932.45,359.55 L933.22,359.36 L934.00,359.18 L934.78,359.00 L935.56,358.82 L936.34,358.64 L937.12,358.46 L937.90,358.28 L938.68,358.11 L939.46,357.93 L940.24,357.76 L941.02,357.59 L941.81,357.42 L942.59,357.25 L943.37,357.08 L944.15,356.91 L944.93,356.74 L945.72,356.58 L946.50,356.41 L947.28,356.25 L948.07,356.08 L948.85,355.92 L949.63,355.76 L950.42,355.60 L951.20,355.44 L951.98,355.29 L952.77,355.13 L953.55,354.97 L954.34,354.82 L955.12,354.67 L955.91,354.51 L956.69,354.36 L957.48,354.21 L958.27,354.06 L959.05,353.91 L959.84,353.77 L960.63,353.62 L961.41,353.47 L962.20,353.33 L962.99,353.18 L963.77,353.04 L964.07,352.99" stroke="#00a3ff" stroke-width="6.2" stroke-dasharray="0.01,10.26" stroke-dashoffset="-2.93"/>
<path d="M327.77,1124.58 L327.98,1123.81 L328.19,1123.04 L328.41,1122.27 L328.62,1121.50 L328.84,1120.73 L329.05,1119.96 L329.27,1119.19 L329.48,1118.42 L329.70,1117.65 L329.92,1116.88 L330.14,1116.11 L330.35,1115.34 L330.57,1114.57 L330.79,1113.80 L331.01,1113.03 L331.23,1112.26 L331.45,1111.49 L331.68,1110.72 L331.90,1109.95 L332.12,1109.19 L332.35,1108.42 L332.57,1107.65 L332.79,1106.88 L333.02,1106.11 L333.24,1105.35 L333.47,1104.58 L333.70,1103.81 L333.92,1103.04 L334.15,1102.28 L334.38,1101.51 L334.61,1100.74 L334.84,1099.98 L335.07,1099.21 L335.30,1098.45 L335.53,1097.68 L335.76,1096.91 L335.99,1096.15 L336.23,1095.38 L336.46,1094.62 L336.69,1093.85 L336.93,1093.09 L337.16,1092.32 L337.40,1091.56 L337.64,1090.79 L337.87,1090.03 L338.11,1089.27 L338.35,1088.50 L338.59,1087.74 L338.82,1086.97 L339.06,1086.21 L339.30,1085.45 L339.54,1084.69 L339.79,1083.92 L340.03,1083.16 L340.27,1082.40 L340.51,1081.64 L340.76,1080.87 L341.00,1080.11 L341.24,1079.35 L341.49,1078.59 L341.73,1077.83 L341.98,1077.07 L342.23,1076.30 L342.47,1075.54 L342.72,1074.78 L342.97,1074.02 L343.22,1073.26 L343.47,1072.50 L343.72,1071.74 L343.97,1070.98 L344.22,1070.22 L344.47,1069.46 L344.72,1068.70 L344.98,1067.95 L345.23,1067.19 L345.48,1066.43 L345.74,1065.67 L345.99,1064.91 L346.25,1064.15 L346.51,1063.39 L346.76,1062.64 L347.02,1061.88 L347.28,1061.12 L347.54,1060.37 L347.80,1059.61 L348.05,1058.85 L348.31,1058.10 L348.58,1057.34 L348.84,1056.58 L349.10,1055.83 L349.36,1055.07 L349.62,1054.32 L349.89,1053.56 L350.15,1052.80 L350.42,1052.05 L350.68,1051.30 L350.95,1050.54 L351.21,1049.79 L351.48,1049.03 L351.75,1048.28 L352.01,1047.52 L352.28,1046.77 L352.55,1046.02 L352.82,1045.26 L353.09,1044.51 L353.36,1043.76 L353.63,1043.01 L353.91,1042.25 L354.18,1041.50 L354.45,1040.75 L354.72,1040.00 L355.00,1039.25 L355.27,1038.49 L355.55,1037.74 L355.82,1036.99 L356.10,1036.24 L356.38,1035.49 L356.66,1034.74 L356.93,1033.99 L357.21,1033.24 L357.49,1032.49 L357.77,1031.74 L358.05,1030.99 L358.33,1030.24 L358.61,1029.49 L358.90,1028.75 L359.18,1028.00 L359.46,1027.25 L359.75,1026.50 L360.03,1025.75 L360.31,1025.01 L360.60,1024.26 L360.89,1023.51 L361.17,1022.76 L361.46,1022.02 L361.75,1021.27 L362.04,1020.52 L362.32,1019.78 L362.61,1019.03 L362.90,1018.29 L363.19,1017.54 L363.49,1016.80 L363.78,1016.05 L364.07,1015.31 L364.36,1014.56 L364.66,1013.82 L364.95,1013.07 L365.24,1012.33 L365.54,1011.59 L365.83,1010.84 L366.13,1010.10 L366.43,1009.36 L366.72,1008.61 L367.02,1007.87 L367.32,1007.13 L367.62,1006.39 L367.92,1005.65 L368.22,1004.90 L368.52,1004.16 L368.82,1003.42 L369.12,1002.68 L369.43,1001.94 L369.73,1001.20 L370.03,1000.46 L370.34,999.72 L370.64,998.98 L370.95,998.24 L371.25,997.50 L371.56,996.76 L371.87,996.02 L372.17,995.29 L372.48,994.55 L372.79,993.81 L373.10,993.07 L373.41,992.33 L373.72,991.60 L374.03,990.86 L374.34,990.12 L374.66,989.39 L374.97,988.65 L375.28,987.91 L375.60,987.18 L375.91,986.44 L376.22,985.71 L376.54,984.97 L376.86,984.24 L377.17,983.50 L377.49,982.77 L377.81,982.03 L378.13,981.30 L378.45,980.57 L378.77,979.83 L379.09,979.10 L379.41,978.37 L379.73,977.63 L380.05,976.90 L380.37,976.17 L380.70,975.44 L381.02,974.71 L381.34,973.98 L381.67,973.24 L381.99,972.51 L382.32,971.78 L382.65,971.05 L382.97,970.32 L383.30,969.59 L383.63,968.86 L383.96,968.13 L384.29,967.41 L384.62,966.68 L384.95,965.95 L385.28,965.22 L385.61,964.49 L385.95,963.76 L386.28,963.04 L386.61,962.31 L386.95,961.58 L387.28,960.86 L387.62,960.13 L387.95,959.40 L388.29,958.68 L388.63,957.95 L388.96,957.23 L389.30,956.50 L389.64,955.78 L389.98,955.05 L390.32,954.33 L390.66,953.61 L391.00,952.88 L391.35,952.16 L391.69,951.44 L392.03,950.71 L392.38,949.99 L392.72,949.27 L393.07,948.55 L393.41,947.83 L393.76,947.10 L394.10,946.38 L394.45,945.66 L394.80,944.94 L395.15,944.22 L395.50,943.50 L395.85,942.78 L396.20,942.06 L396.55,941.34 L396.90,940.63 L397.25,939.91 L397.60,939.19 L397.95,938.47 L398.30,937.75 L398.65,937.03 L399.00,936.31 L399.35,935.59 L399.70,934.87 L400.05,934.15 L400.40,933.44 L400.76,932.72 L401.11,932.00 L401.46,931.28 L401.81,930.56 L402.17,929.85 L402.52,929.13 L402.88,928.41 L403.23,927.69 L403.58,926.98 L403.94,926.26 L404.30,925.54 L404.65,924.83 L405.01,924.11 L405.36,923.39 L405.72,922.68 L406.08,921.96 L406.44,921.25 L406.79,920.53 L407.15,919.82 L407.51,919.10 L407.87,918.39 L408.23,917.67 L408.59,916.96 L408.95,916.24 L409.31,915.53 L409.67,914.81 L410.03,914.10 L410.40,913.39 L410.76,912.68 L411.12,911.96 L411.49,911.25 L411.85,910.54 L412.21,909.83 L412.58,909.11 L412.94,908.40 L413.31,907.69 L413.68,906.98 L414.04,906.27 L414.41,905.56 L414.78,904.85 L415.15,904.14 L415.51,903.43 L415.88,902.72 L416.25,902.01 L416.62,901.30 L416.99,900.59 L417.36,899.88 L417.74,899.17 L418.11,898.46 L418.48,897.75 L418.85,897.05 L419.23,896.34 L419.60,895.63 L419.97,894.92 L420.35,894.22 L420.73,893.51 L421.10,892.81 L421.48,892.10 L421.85,891.39 L422.23,890.69 L422.61,889.98 L422.99,889.28 L423.37,888.57 L423.75,887.87 L424.13,887.17 L424.51,886.46 L424.89,885.76 L425.27,885.06 L425.65,884.35 L426.03,883.65 L426.42,882.95 L426.80,882.25 L427.19,881.54 L427.57,880.84 L427.96,880.14 L428.34,879.44 L428.73,878.74 L429.12,878.04 L429.50,877.34 L429.89,876.64 L430.28,875.94 L430.67,875.24 L431.06,874.54 L431.45,873.85 L431.84,873.15 L432.23,872.45 L432.62,871.75 L433.02,871.06 L433.41,870.36 L433.80,869.66 L434.20,868.97 L434.59,868.27 L434.99,867.58 L435.38,866.88 L435.78,866.19 L436.18,865.49 L436.57,864.80 L436.97,864.10 L437.37,863.41 L437.77,862.72 L438.17,862.02 L438.57,861.33 L438.97,860.64 L439.38,859.95 L439.78,859.26 L440.18,858.57 L440.58,857.87 L440.99,857.18 L441.39,856.49 L441.80,855.80 L442.21,855.12 L442.61,854.43 L443.02,853.74 L443.43,853.05 L443.84,852.36 L444.25,851.67 L444.66,850.99 L445.07,850.30 L445.48,849.61 L445.89,848.93 L446.30,848.24 L446.71,847.56 L447.13,846.87 L447.54,846.19 L447.96,845.50 L448.37,844.82 L448.79,844.14 L449.20,843.45 L449.62,842.77 L450.04,842.09 L450.46,841.41 L450.88,840.73 L451.30,840.05 L451.72,839.37 L452.14,838.69 L452.56,838.01 L452.98,837.33 L453.41,836.65 L453.83,835.97 L454.26,835.29 L454.68,834.61 L455.11,833.94 L455.53,833.26 L455.96,832.58 L456.38,831.90 L456.81,831.22 L457.23,830.55 L457.66,829.87 L458.08,829.19 L458.51,828.51 L458.93,827.84 L459.36,827.16 L459.79,826.48 L460.22,825.81 L460.64,825.13 L461.07,824.46 L461.50,823.78 L461.93,823.10 L462.36,822.43 L462.79,821.75 L463.22,821.08 L463.65,820.41 L464.08,819.73 L464.51,819.06 L464.94,818.38 L465.37,817.71 L465.80,817.04 L466.24,816.36 L466.67,815.69 L467.10,815.02 L467.54,814.35 L467.97,813.68 L468.41,813.00 L468.84,812.33 L469.28,811.66 L469.71,810.99 L470.15,810.32 L470.59,809.65 L471.03,808.98 L471.46,808.31 L471.90,807.64 L472.34,806.98 L472.78,806.31 L473.22,805.64 L473.66,804.97 L474.11,804.31 L474.55,803.64 L474.99,802.97 L475.43,802.31 L475.88,801.64 L476.32,800.97 L476.77,800.31 L477.21,799.64 L477.66,798.98 L478.10,798.32 L478.55,797.65 L479.00,796.99 L479.44,796.33 L479.89,795.66 L480.34,795.00 L480.79,794.34 L481.24,793.68 L481.69,793.02 L482.14,792.36 L482.59,791.70 L483.05,791.04 L483.50,790.38 L483.95,789.72 L484.41,789.06 L484.86,788.40 L485.31,787.74 L485.77,787.08 L486.23,786.43 L486.68,785.77 L487.14,785.11 L487.60,784.46 L488.06,783.80 L488.52,783.15 L488.98,782.49 L489.44,781.84 L489.90,781.18 L490.36,780.53 L490.82,779.88 L491.28,779.22 L491.75,778.57 L492.21,777.92 L492.67,777.27 L493.14,776.62 L493.60,775.97 L494.07,775.32 L494.54,774.67 L495.01,774.02 L495.47,773.37 L495.94,772.72 L496.41,772.07 L496.88,771.43 L497.35,770.78 L497.82,770.13 L498.29,769.49 L498.77,768.84 L499.24,768.19 L499.71,767.55 L500.19,766.91 L500.66,766.26 L501.14,765.62 L501.61,764.98 L502.09,764.33 L502.57,763.69 L503.04,763.05 L503.52,762.41 L504.00,761.77 L504.48,761.13 L504.96,760.49 L505.44,759.85 L505.92,759.21 L506.41,758.57 L506.89,757.93 L507.37,757.29 L507.86,756.66 L508.34,756.02 L508.83,755.38 L509.31,754.75 L509.80,754.11 L510.28,753.48 L510.77,752.85 L511.26,752.21 L511.75,751.58 L512.24,750.95 L512.73,750.31 L513.22,749.68 L513.71,749.05 L514.20,748.42 L514.70,747.79 L515.19,747.16 L515.68,746.53 L516.18,745.90 L516.67,745.27 L517.17,744.65 L517.67,744.02 L518.16,743.39 L518.66,742.77 L519.16,742.14 L519.66,741.51 L520.16,740.89 L520.66,740.27 L521.16,739.64 L521.66,739.02 L522.16,738.40 L522.67,737.77 L523.17,737.15 L523.67,736.53 L524.18,735.91 L524.68,735.29 L525.19,734.67 L525.70,734.05 L526.20,733.43 L526.71,732.81 L527.22,732.20 L527.73,731.58 L528.24,730.96 L528.75,730.35 L529.26,729.73 L529.77,729.12 L530.28,728.50 L530.80,727.89 L531.31,727.27 L531.82,726.66 L532.34,726.05 L532.85,725.44 L533.37,724.83 L533.89,724.21 L534.40,723.60 L534.92,722.99 L535.44,722.39 L535.96,721.78 L536.48,721.17 L537.00,720.56 L537.52,719.95 L538.04,719.35 L538.57,718.74 L539.09,718.14 L539.61,717.53 L540.14,716.93 L540.66,716.32 L541.19,715.72 L541.71,715.12 L542.24,714.52 L542.77,713.91 L543.29,713.31 L543.82,712.71 L544.35,712.11 L544.88,711.51 L545.41,710.91 L545.94,710.32 L546.48,709.72 L547.01,709.12 L547.54,708.52 L548.07,707.93 L548.61,707.33 L549.14,706.74 L549.68,706.14 L550.21,705.55 L550.75,704.96 L551.29,704.36 L551.83,703.77 L552.37,703.18 L552.90,702.59 L553.44,702.00 L553.98,701.41 L554.53,700.82 L555.07,700.23 L555.61,699.64 L556.15,699.06 L556.70,698.47 L557.24,697.88 L557.79,697.30 L558.33,696.71 L558.88,696.13 L559.42,695.54 L559.97,694.96 L560.52,694.38 L561.07,693.79 L561.62,693.21 L562.17,692.63 L562.72,692.05 L563.27,691.47 L563.82,690.89 L564.37,690.31 L564.92,689.73 L565.48,689.16 L566.03,688.58 L566.59,688.00 L567.14,687.43 L567.70,686.85 L568.25,686.28 L568.81,685.70 L569.37,685.13 L569.93,684.56 L570.49,683.98 L571.05,683.41 L571.61,682.84 L572.17,682.27 L572.73,681.70 L573.29,681.13 L573.86,680.56 L574.42,680.00 L574.98,679.43 L575.55,678.86 L576.11,678.30 L576.68,677.73 L577.25,677.17 L577.81,676.60 L578.38,676.04 L578.95,675.48 L579.52,674.91 L580.09,674.35 L580.66,673.79 L581.23,673.23 L581.80,672.67 L582.38,672.11 L582.93,671.53 L583.41,670.90 L583.86,670.24 L584.28,669.56 L584.68,668.87 L585.07,668.16 L585.44,667.46 L585.80,666.74 L586.15,666.02 L586.49,665.30 L586.82,664.57 L587.15,663.84 L587.46,663.10 L587.78,662.37 L588.08,661.63 L588.39,660.89 L588.68,660.15 L588.98,659.40 L589.27,658.66 L589.55,657.91 L589.83,657.16 L590.11,656.41 L590.39,655.66 L590.66,654.91 L590.93,654.15 L591.20,653.40 L591.47,652.65 L591.73,651.89 L591.99,651.14 L592.25,650.38 L592.51,649.62 L592.77,648.86 L593.02,648.11 L593.28,647.35 L593.53,646.59 L593.78,645.83 L594.03,645.07 L594.27,644.31 L594.52,643.54 L594.76,642.78 L595.01,642.02 L595.25,641.26 L595.49,640.50 L595.73,639.73 L595.97,638.97 L596.21,638.21 L596.45,637.44 L596.69,636.68 L596.93,635.92 L597.16,635.15 L597.40,634.39 L597.63,633.62 L597.87,632.86 L598.10,632.09 L598.33,631.33 L598.56,630.56 L598.80,629.79 L599.03,629.03 L599.26,628.26 L599.49,627.50 L599.72,626.73 L599.95,625.96 L600.18,625.20 L600.41,624.43 L600.64,623.66 L600.86,622.90 L601.09,622.13 L601.32,621.36 L601.55,620.60 L601.77,619.83 L602.00,619.06 L602.23,618.30 L602.45,617.53 L602.68,616.76 L602.91,615.99 L603.13,615.23 L603.36,614.46 L603.58,613.69 L603.81,612.92 L604.04,612.16 L604.26,611.39 L604.49,610.62 L604.71,609.85 L604.94,609.09 L605.16,608.32 L605.39,607.55 L605.61,606.78 L605.84,606.02 L606.06,605.25 L606.29,604.48 L606.51,603.71 L606.74,602.94 L606.96,602.18 L607.19,601.41 L607.41,600.64 L607.64,599.87 L607.86,599.11 L608.09,598.34 L608.31,597.57 L608.54,596.80 L608.76,596.04 L608.99,595.27 L609.22,594.50 L609.44,593.73 L609.67,592.97 L609.89,592.20 L610.12,591.43 L610.35,590.66 L610.57,589.90 L610.80,589.13 L611.03,588.36 L611.25,587.60 L611.48,586.83 L611.71,586.06 L611.94,585.29 L612.16,584.53 L612.39,583.76 L612.62,582.99 L612.85,582.23 L613.08,581.46 L613.31,580.69 L613.53,579.93 L613.76,579.16 L613.99,578.39 L614.22,577.63 L614.45,576.86 L614.68,576.10 L614.91,575.33 L615.14,574.56 L615.37,573.80 L615.60,573.03 L615.84,572.27 L616.07,571.50 L616.30,570.73 L616.53,569.97 L616.76,569.20 L617.00,568.44 L617.23,567.67 L617.46,566.91 L617.70,566.14 L617.93,565.38 L618.16,564.61 L618.40,563.85 L618.63,563.08 L618.87,562.32 L619.10,561.55 L619.34,560.79 L619.57,560.02 L619.81,559.26 L620.05,558.49 L620.28,557.73 L620.52,556.97 L620.76,556.20 L621.00,555.44 L621.23,554.67 L621.47,553.91 L621.71,553.15 L621.95,552.38 L622.19,551.62 L622.43,550.86 L622.67,550.09 L622.91,549.33 L623.15,548.57 L623.39,547.81 L623.63,547.04 L623.88,546.28 L624.12,545.52 L624.36,544.76 L624.60,543.99 L624.85,543.23 L625.09,542.47 L625.34,541.71 L625.58,540.95 L625.82,540.18 L626.07,539.42 L626.32,538.66 L626.56,537.90 L626.81,537.14 L627.06,536.38 L627.30,535.62 L627.55,534.86 L627.80,534.10 L628.05,533.34 L628.30,532.58 L628.54,531.82 L628.79,531.06 L629.04,530.30 L629.29,529.54 L629.55,528.78 L629.80,528.02 L630.05,527.26 L630.30,526.50 L630.55,525.74 L630.81,524.98 L631.06,524.22 L631.31,523.46 L631.57,522.70 L631.82,521.95 L632.08,521.19 L632.33,520.43 L632.59,519.67 L632.85,518.91 L633.10,518.16 L633.36,517.40 L633.62,516.64 L633.88,515.88 L634.13,515.13 L634.39,514.37 L634.65,513.61 L634.91,512.86 L635.17,512.10 L635.43,511.34 L635.70,510.59 L635.96,509.83 L636.22,509.08 L636.48,508.32 L636.75,507.57 L637.01,506.81 L637.27,506.05 L637.54,505.30 L637.80,504.54 L638.07,503.79 L638.33,503.04 L638.60,502.28 L638.87,501.53 L639.13,500.77 L639.40,500.02 L639.67,499.27 L639.94,498.51 L640.21,497.76 L640.48,497.01 L640.75,496.25 L641.02,495.50 L641.29,494.75 L641.56,493.99 L641.83,493.24 L642.11,492.49 L642.38,491.74 L642.65,490.99 L642.93,490.24 L643.20,489.48 L643.48,488.73 L643.75,487.98 L644.03,487.23 L644.31,486.48 L644.58,485.73 L644.86,484.98 L645.14,484.23 L645.42,483.48 L645.70,482.73 L645.97,481.98 L646.26,481.23 L646.54,480.48 L646.82,479.73 L647.10,478.98 L647.38,478.23 L647.66,477.49 L647.95,476.74 L648.23,475.99 L648.51,475.24 L648.80,474.49 L649.08,473.75 L649.37,473.00 L649.65,472.25 L649.94,471.51 L650.23,470.76 L650.52,470.01 L650.80,469.27 L651.09,468.52 L651.38,467.77 L651.67,467.03 L651.96,466.28 L652.25,465.54 L652.55,464.79 L652.84,464.05 L653.13,463.30 L653.42,462.56 L653.72,461.81 L654.01,461.07 L654.30,460.33 L654.60,459.58 L654.90,458.84 L655.19,458.10 L655.49,457.35 L655.79,456.61 L656.08,455.87 L656.38,455.13 L656.68,454.38 L656.98,453.64 L657.28,452.90 L657.58,452.16 L657.88,451.42 L658.18,450.68 L658.48,449.94 L658.79,449.20 L659.09,448.46 L659.39,447.72 L659.70,446.98 L660.00,446.24 L660.31,445.50 L660.61,444.76 L660.92,444.02 L661.23,443.28 L661.54,442.54 L661.84,441.80 L662.15,441.06 L662.46,440.33 L662.77,439.59 L663.08,438.85 L663.39,438.12 L663.71,437.38 L664.02,436.64 L664.33,435.91 L664.64,435.17 L664.96,434.43 L665.27,433.70 L665.59,432.96 L665.90,432.23 L666.22,431.49 L666.54,430.76 L666.85,430.02 L667.17,429.29 L667.49,428.56 L667.81,427.82 L668.13,427.09 L668.45,426.36 L668.77,425.62 L669.09,424.89 L669.41,424.16 L669.73,423.43 L670.06,422.69 L670.38,421.96 L670.71,421.23 L671.03,420.50 L671.36,419.77 L671.68,419.04 L672.01,418.31 L672.34,417.58 L672.66,416.85 L672.99,416.12 L673.32,415.39 L673.65,414.66 L673.98,413.93 L674.31,413.20 L674.64,412.48 L674.97,411.75 L675.31,411.02 L675.64,410.29 L675.97,409.57 L676.31,408.84 L676.64,408.11 L676.98,407.39 L677.32,406.66 L677.65,405.93 L677.99,405.21 L678.33,404.48 L678.67,403.76 L679.01,403.03 L679.35,402.31 L679.69,401.59 L680.03,400.86 L680.37,400.14 L680.71,399.42 L681.06,398.69 L681.40,397.97 L681.74,397.25 L682.09,396.53 L682.43,395.81 L682.78,395.09 L683.13,394.36 L683.47,393.64 L683.82,392.92 L684.17,392.20 L684.52,391.48 L684.87,390.76 L685.22,390.05 L685.57,389.33 L685.92,388.61 L686.28,387.89 L686.63,387.17 L686.98,386.45 L687.34,385.74 L687.69,385.02 L688.05,384.30 L688.41,383.59 L688.76,382.87 L689.12,382.16 L689.48,381.44 L689.84,380.73 L690.20,380.01 L690.56,379.30 L690.92,378.58 L691.28,377.87 L691.64,377.16 L692.01,376.44 L692.37,375.73 L692.74,375.02 L693.10,374.31 L693.47,373.60 L693.83,372.89 L694.20,372.17 L694.57,371.46 L694.94,370.75 L695.31,370.04 L695.68,369.34 L696.05,368.63 L696.42,367.92 L696.79,367.21 L697.16,366.50 L697.54,365.79 L697.91,365.09 L698.28,364.38 L698.66,363.67 L699.04,362.97 L699.41,362.26 L699.79,361.56 L700.17,360.85 L700.55,360.15 L700.93,359.44 L701.31,358.74 L701.69,358.04 L702.07,357.33 L702.45,356.63 L702.84,355.93 L703.22,355.23 L703.61,354.53 L703.99,353.82 L704.38,353.12 L704.77,352.42 L705.15,351.72 L705.54,351.02 L705.93,350.33 L706.32,349.63 L706.71,348.93 L707.10,348.23 L707.49,347.53 L707.89,346.84 L708.28,346.14 L708.68,345.44 L709.07,344.75 L709.47,344.05 L709.86,343.36 L710.26,342.66 L710.66,341.97 L711.06,341.28 L711.46,340.58 L711.86,339.89 L712.26,339.20 L712.66,338.51 L713.06,337.82 L713.47,337.13 L713.87,336.44 L714.28,335.75 L714.68,335.06 L715.09,334.37 L715.50,333.68 L715.91,332.99 L716.32,332.30 L716.73,331.62 L717.14,330.93 L717.55,330.25 L717.96,329.56 L718.37,328.87 L718.79,328.19 L719.20,327.51 L719.62,326.82 L720.04,326.14 L720.45,325.46 L720.87,324.78 L721.29,324.09 L721.71,323.41 L722.13,322.73 L722.55,322.05 L722.98,321.37 L723.40,320.69 L723.82,320.02 L724.25,319.34 L724.67,318.66 L725.10,317.98 L725.53,317.31 L725.96,316.63 L726.39,315.96 L726.82,315.28 L727.25,314.61 L727.68,313.94 L728.11,313.26 L728.55,312.59 L728.98,311.92 L729.42,311.25 L729.85,310.58 L730.29,309.91 L730.73,309.24 L731.17,308.57 L731.61,307.90 L732.05,307.24 L732.49,306.57 L732.93,305.90 L733.38,305.24 L733.82,304.57 L734.27,303.91 L734.71,303.24 L735.16,302.58 L735.61,301.92 L736.06,301.26 L736.51,300.59 L736.96,299.93 L737.41,299.27 L737.87,298.62 L738.32,297.96 L738.78,297.30 L739.23,296.64 L739.69,295.98 L740.15,295.33 L740.61,294.67 L741.07,294.02 L741.53,293.37 L741.99,292.71 L742.45,292.06 L742.92,291.41 L743.38,290.76 L743.85,290.11 L744.32,289.46 L744.78,288.81 L745.25,288.16 L745.72,287.51 L746.19,286.87 L746.67,286.22 L747.14,285.58 L747.61,284.93 L748.09,284.29 L748.57,283.65 L749.04,283.00 L749.52,282.36 L750.00,281.72 L750.48,281.08 L750.96,280.44 L751.45,279.81 L751.93,279.17 L752.42,278.53 L752.90,277.90 L753.39,277.26 L753.64,276.94" stroke="#0034ff" stroke-width="6.4" stroke-dasharray="14,25.90" stroke-dashoffset="-20.40"/>
<path d="M327.77,1124.58 L327.98,1123.81 L328.19,1123.04 L328.41,1122.27 L328.62,1121.50 L328.84,1120.73 L329.05,1119.96 L329.27,1119.19 L329.48,1118.42 L329.70,1117.65 L329.92,1116.88 L330.14,1116.11 L330.35,1115.34 L330.57,1114.57 L330.79,1113.80 L331.01,1113.03 L331.23,1112.26 L331.45,1111.49 L331.68,1110.72 L331.90,1109.95 L332.12,1109.19 L332.35,1108.42 L332.57,1107.65 L332.79,1106.88 L333.02,1106.11 L333.24,1105.35 L333.47,1104.58 L333.70,1103.81 L333.92,1103.04 L334.15,1102.28 L334.38,1101.51 L334.61,1100.74 L334.84,1099.98 L335.07,1099.21 L335.30,1098.45 L335.53,1097.68 L335.76,1096.91 L335.99,1096.15 L336.23,1095.38 L336.46,1094.62 L336.69,1093.85 L336.93,1093.09 L337.16,1092.32 L337.40,1091.56 L337.64,1090.79 L337.87,1090.03 L338.11,1089.27 L338.35,1088.50 L338.59,1087.74 L338.82,1086.97 L339.06,1086.21 L339.30,1085.45 L339.54,1084.69 L339.79,1083.92 L340.03,1083.16 L340.27,1082.40 L340.51,1081.64 L340.76,1080.87 L341.00,1080.11 L341.24,1079.35 L341.49,1078.59 L341.73,1077.83 L341.98,1077.07 L342.23,1076.30 L342.47,1075.54 L342.72,1074.78 L342.97,1074.02 L343.22,1073.26 L343.47,1072.50 L343.72,1071.74 L343.97,1070.98 L344.22,1070.22 L344.47,1069.46 L344.72,1068.70 L344.98,1067.95 L345.23,1067.19 L345.48,1066.43 L345.74,1065.67 L345.99,1064.91 L346.25,1064.15 L346.51,1063.39 L346.76,1062.64 L347.02,1061.88 L347.28,1061.12 L347.54,1060.37 L347.80,1059.61 L348.05,1058.85 L348.31,1058.10 L348.58,1057.34 L348.84,1056.58 L349.10,1055.83 L349.36,1055.07 L349.62,1054.32 L349.89,1053.56 L350.15,1052.80 L350.42,1052.05 L350.68,1051.30 L350.95,1050.54 L351.21,1049.79 L351.48,1049.03 L351.75,1048.28 L352.01,1047.52 L352.28,1046.77 L352.55,1046.02 L352.82,1045.26 L353.09,1044.51 L353.36,1043.76 L353.63,1043.01 L353.91,1042.25 L354.18,1041.50 L354.45,1040.75 L354.72,1040.00 L355.00,1039.25 L355.27,1038.49 L355.55,1037.74 L355.82,1036.99 L356.10,1036.24 L356.38,1035.49 L356.66,1034.74 L356.93,1033.99 L357.21,1033.24 L357.49,1032.49 L357.77,1031.74 L358.05,1030.99 L358.33,1030.24 L358.61,1029.49 L358.90,1028.75 L359.18,1028.00 L359.46,1027.25 L359.75,1026.50 L360.03,1025.75 L360.31,1025.01 L360.60,1024.26 L360.89,1023.51 L361.17,1022.76 L361.46,1022.02 L361.75,1021.27 L362.04,1020.52 L362.32,1019.78 L362.61,1019.03 L362.90,1018.29 L363.19,1017.54 L363.49,1016.80 L363.78,1016.05 L364.07,1015.31 L364.36,1014.56 L364.66,1013.82 L364.95,1013.07 L365.24,1012.33 L365.54,1011.59 L365.83,1010.84 L366.13,1010.10 L366.43,1009.36 L366.72,1008.61 L367.02,1007.87 L367.32,1007.13 L367.62,1006.39 L367.92,1005.65 L368.22,1004.90 L368.52,1004.16 L368.82,1003.42 L369.12,1002.68 L369.43,1001.94 L369.73,1001.20 L370.03,1000.46 L370.34,999.72 L370.64,998.98 L370.95,998.24 L371.25,997.50 L371.56,996.76 L371.87,996.02 L372.17,995.29 L372.48,994.55 L372.79,993.81 L373.10,993.07 L373.41,992.33 L373.72,991.60 L374.03,990.86 L374.34,990.12 L374.66,989.39 L374.97,988.65 L375.28,987.91 L375.60,987.18 L375.91,986.44 L376.22,985.71 L376.54,984.97 L376.86,984.24 L377.17,983.50 L377.49,982.77 L377.81,982.03 L378.13,981.30 L378.45,980.57 L378.77,979.83 L379.09,979.10 L379.41,978.37 L379.73,977.63 L380.05,976.90 L380.37,976.17 L380.70,975.44 L381.02,974.71 L381.34,973.98 L381.67,973.24 L381.99,972.51 L382.32,971.78 L382.65,971.05 L382.97,970.32 L383.30,969.59 L383.63,968.86 L383.96,968.13 L384.29,967.41 L384.62,966.68 L384.95,965.95 L385.28,965.22 L385.61,964.49 L385.95,963.76 L386.28,963.04 L386.61,962.31 L386.95,961.58 L387.28,960.86 L387.62,960.13 L387.95,959.40 L388.29,958.68 L388.63,957.95 L388.96,957.23 L389.30,956.50 L389.64,955.78 L389.98,955.05 L390.32,954.33 L390.66,953.61 L391.00,952.88 L391.35,952.16 L391.69,951.44 L392.03,950.71 L392.38,949.99 L392.72,949.27 L393.07,948.55 L393.41,947.83 L393.76,947.10 L394.10,946.38 L394.45,945.66 L394.80,944.94 L395.15,944.22 L395.50,943.50 L395.85,942.78 L396.20,942.06 L396.55,941.34 L396.90,940.63 L397.25,939.91 L397.60,939.19 L397.95,938.47 L398.30,937.75 L398.65,937.03 L399.00,936.31 L399.35,935.59 L399.70,934.87 L400.05,934.15 L400.40,933.44 L400.76,932.72 L401.11,932.00 L401.46,931.28 L401.81,930.56 L402.17,929.85 L402.52,929.13 L402.88,928.41 L403.23,927.69 L403.58,926.98 L403.94,926.26 L404.30,925.54 L404.65,924.83 L405.01,924.11 L405.36,923.39 L405.72,922.68 L406.08,921.96 L406.44,921.25 L406.79,920.53 L407.15,919.82 L407.51,919.10 L407.87,918.39 L408.23,917.67 L408.59,916.96 L408.95,916.24 L409.31,915.53 L409.67,914.81 L410.03,914.10 L410.40,913.39 L410.76,912.68 L411.12,911.96 L411.49,911.25 L411.85,910.54 L412.21,909.83 L412.58,909.11 L412.94,908.40 L413.31,907.69 L413.68,906.98 L414.04,906.27 L414.41,905.56 L414.78,904.85 L415.15,904.14 L415.51,903.43 L415.88,902.72 L416.25,902.01 L416.62,901.30 L416.99,900.59 L417.36,899.88 L417.74,899.17 L418.11,898.46 L418.48,897.75 L418.85,897.05 L419.23,896.34 L419.60,895.63 L419.97,894.92 L420.35,894.22 L420.73,893.51 L421.10,892.81 L421.48,892.10 L421.85,891.39 L422.23,890.69 L422.61,889.98 L422.99,889.28 L423.37,888.57 L423.75,887.87 L424.13,887.17 L424.51,886.46 L424.89,885.76 L425.27,885.06 L425.65,884.35 L426.03,883.65 L426.42,882.95 L426.80,882.25 L427.19,881.54 L427.57,880.84 L427.96,880.14 L428.34,879.44 L428.73,878.74 L429.12,878.04 L429.50,877.34 L429.89,876.64 L430.28,875.94 L430.67,875.24 L431.06,874.54 L431.45,873.85 L431.84,873.15 L432.23,872.45 L432.62,871.75 L433.02,871.06 L433.41,870.36 L433.80,869.66 L434.20,868.97 L434.59,868.27 L434.99,867.58 L435.38,866.88 L435.78,866.19 L436.18,865.49 L436.57,864.80 L436.97,864.10 L437.37,863.41 L437.77,862.72 L438.17,862.02 L438.57,861.33 L438.97,860.64 L439.38,859.95 L439.78,859.26 L440.18,858.57 L440.58,857.87 L440.99,857.18 L441.39,856.49 L441.80,855.80 L442.21,855.12 L442.61,854.43 L443.02,853.74 L443.43,853.05 L443.84,852.36 L444.25,851.67 L444.66,850.99 L445.07,850.30 L445.48,849.61 L445.89,848.93 L446.30,848.24 L446.71,847.56 L447.13,846.87 L447.54,846.19 L447.96,845.50 L448.37,844.82 L448.79,844.14 L449.20,843.45 L449.62,842.77 L450.04,842.09 L450.46,841.41 L450.88,840.73 L451.30,840.05 L451.72,839.37 L452.14,838.69 L452.56,838.01 L452.98,837.33 L453.41,836.65 L453.83,835.97 L454.26,835.29 L454.68,834.61 L455.11,833.94 L455.53,833.26 L455.96,832.58 L456.39,831.91 L456.82,831.23 L457.25,830.56 L457.67,829.88 L458.11,829.21 L458.54,828.53 L458.97,827.86 L459.40,827.19 L459.83,826.51 L460.27,825.84 L460.70,825.17 L461.14,824.50 L461.57,823.83 L462.01,823.16 L462.45,822.49 L462.89,821.82 L463.32,821.15 L463.76,820.48 L464.20,819.81 L464.64,819.14 L465.09,818.48 L465.53,817.81 L465.97,817.14 L466.41,816.48 L466.86,815.81 L467.30,815.15 L467.75,814.48 L468.19,813.82 L468.64,813.16 L469.09,812.49 L469.54,811.83 L469.99,811.17 L470.44,810.51 L470.89,809.85 L471.34,809.19 L471.79,808.53 L472.24,807.87 L472.70,807.21 L473.15,806.55 L473.61,805.89 L474.06,805.23 L474.52,804.58 L474.97,803.92 L475.43,803.26 L475.89,802.61 L476.35,801.95 L476.81,801.30 L477.27,800.64 L477.73,799.99 L478.19,799.34 L478.66,798.69 L479.12,798.03 L479.59,797.38 L480.05,796.73 L480.52,796.08 L480.98,795.43 L481.45,794.78 L481.92,794.13 L482.39,793.48 L482.86,792.84 L483.33,792.19 L483.80,791.54 L484.27,790.90 L484.74,790.25 L485.22,789.61 L485.69,788.96 L486.17,788.32 L486.64,787.68 L487.12,787.03 L487.59,786.39 L488.07,785.75 L488.55,785.11 L489.03,784.47 L489.51,783.83 L489.99,783.19 L490.47,782.55 L490.96,781.91 L491.44,781.27 L491.92,780.64 L492.41,780.00 L492.89,779.37 L493.38,778.73 L493.87,778.10 L494.36,777.46 L494.84,776.83 L495.33,776.20 L495.82,775.56 L496.32,774.93 L496.81,774.30 L497.30,773.67 L497.79,773.04 L498.29,772.41 L498.78,771.78 L499.28,771.15 L499.77,770.53 L500.27,769.90 L500.77,769.27 L501.27,768.65 L501.77,768.02 L502.27,767.40 L502.77,766.78 L503.27,766.15 L503.77,765.53 L504.28,764.91 L504.78,764.29 L505.29,763.67 L505.79,763.05 L506.30,762.43 L506.81,761.81 L507.32,761.19 L507.83,760.58 L508.34,759.96 L508.85,759.34 L509.36,758.73 L509.87,758.12 L510.38,757.50 L510.90,756.89 L511.41,756.28 L511.93,755.66 L512.44,755.05 L512.96,754.44 L513.48,753.83 L514.00,753.22 L514.52,752.62 L515.04,752.01 L515.56,751.40 L516.08,750.79 L516.60,750.19 L517.13,749.58 L517.65,748.98 L518.17,748.38 L518.70,747.77 L519.23,747.17 L519.75,746.57 L520.28,745.97 L520.81,745.37 L521.34,744.77 L521.87,744.17 L522.40,743.57 L522.94,742.97 L523.47,742.38 L524.00,741.78 L524.54,741.19 L525.07,740.59 L525.61,740.00 L526.15,739.41 L526.68,738.81 L527.22,738.22 L527.76,737.63 L528.30,737.04 L528.84,736.45 L529.38,735.86 L529.93,735.28 L530.47,734.69 L531.01,734.10 L531.56,733.52 L532.11,732.93 L532.65,732.35 L533.20,731.76 L533.75,731.18 L534.30,730.60 L534.85,730.02 L535.40,729.44 L535.95,728.86 L536.50,728.28 L537.05,727.70 L537.61,727.12 L538.16,726.55 L538.72,725.97 L539.27,725.39 L539.83,724.82 L540.39,724.25 L540.94,723.67 L541.50,723.10 L542.06,722.53 L542.62,721.96 L543.19,721.39 L543.75,720.82 L544.31,720.25 L544.87,719.68 L545.44,719.12 L546.00,718.55 L546.57,717.99 L547.14,717.42 L547.70,716.86 L548.27,716.29 L548.84,715.73 L549.41,715.17 L549.98,714.61 L550.55,714.05 L551.13,713.49 L551.70,712.93 L552.27,712.38 L552.85,711.82 L553.42,711.26 L554.00,710.71 L554.58,710.15 L555.15,709.60 L555.73,709.05 L556.31,708.50 L556.89,707.95 L557.47,707.40 L558.05,706.85 L558.64,706.30 L559.22,705.75 L559.80,705.20 L560.39,704.66 L560.97,704.11 L561.56,703.57 L562.15,703.02 L562.73,702.48 L563.32,701.94 L563.91,701.40 L564.50,700.86 L565.09,700.32 L565.68,699.78 L566.27,699.24 L566.87,698.70 L567.46,698.16 L568.05,697.63 L568.65,697.09 L569.25,696.56 L569.84,696.03 L570.44,695.49 L571.04,694.96 L571.64,694.43 L572.23,693.90 L572.83,693.37 L573.44,692.85 L574.04,692.32 L574.64,691.79 L575.24,691.27 L575.85,690.74 L576.45,690.22 L577.06,689.69 L577.66,689.17 L578.27,688.65 L578.88,688.13 L579.48,687.61 L580.09,687.09 L580.70,686.57 L581.31,686.05 L581.92,685.54 L582.54,685.02 L583.15,684.51 L583.76,683.99 L584.37,683.48 L584.99,682.97 L585.60,682.46 L586.22,681.95 L586.84,681.44 L587.45,680.93 L588.07,680.42 L588.69,679.91 L589.31,679.41 L589.93,678.90 L590.55,678.40 L591.17,677.90 L591.80,677.39 L592.42,676.89 L593.04,676.39 L593.67,675.89 L594.29,675.39 L594.92,674.89 L595.55,674.40 L596.17,673.90 L596.80,673.40 L597.43,672.91 L598.06,672.41 L598.69,671.92 L599.32,671.43 L599.95,670.94 L600.58,670.45 L601.22,669.96 L601.85,669.47 L602.48,668.98 L603.12,668.50 L603.76,668.01 L604.39,667.53 L605.03,667.04 L605.67,666.56 L606.30,666.08 L606.94,665.60 L607.58,665.12 L608.22,664.64 L608.87,664.16 L609.51,663.68 L610.15,663.20 L610.79,662.73 L611.44,662.25 L612.08,661.78 L612.73,661.31 L613.37,660.84 L614.02,660.36 L614.67,659.89 L615.32,659.43 L615.96,658.96 L616.61,658.49 L617.26,658.02 L617.91,657.56 L618.57,657.09 L619.22,656.63 L619.87,656.17 L620.52,655.71 L621.18,655.25 L621.83,654.79 L622.49,654.33 L623.15,653.87 L623.80,653.41 L624.46,652.96 L625.12,652.50 L625.78,652.05 L626.44,651.60 L627.10,651.15 L627.76,650.69 L628.42,650.24 L629.08,649.80 L629.74,649.35 L630.41,648.90 L631.07,648.46 L631.74,648.01 L632.40,647.57 L633.07,647.12 L633.74,646.68 L634.40,646.24 L635.07,645.80 L635.74,645.36 L636.41,644.93 L637.08,644.49 L637.75,644.05 L638.42,643.62 L639.10,643.18 L639.77,642.75 L640.44,642.32 L641.12,641.89 L641.79,641.46 L642.47,641.03 L643.14,640.60 L643.82,640.18 L644.50,639.75 L645.17,639.33 L645.85,638.90 L646.53,638.48 L647.21,638.06 L647.89,637.64 L648.58,637.22 L649.26,636.80 L649.94,636.39 L650.62,635.97 L651.31,635.55 L651.99,635.14 L652.68,634.73 L653.36,634.32 L654.05,633.91 L654.74,633.50 L655.42,633.09 L656.11,632.68 L656.80,632.27 L657.49,631.87 L658.18,631.46 L658.87,631.06 L659.56,630.66 L660.26,630.26 L660.95,629.86 L661.64,629.46 L662.34,629.06 L663.03,628.66 L663.73,628.27 L664.42,627.87 L665.12,627.48 L665.82,627.09 L666.51,626.70 L667.21,626.31 L667.91,625.92 L668.61,625.53 L669.31,625.14 L670.01,624.76 L670.71,624.37 L671.42,623.99 L672.12,623.61 L672.82,623.22 L673.53,622.84 L674.23,622.46 L674.94,622.09 L675.64,621.71 L676.35,621.33 L677.05,620.96 L677.76,620.59 L678.47,620.21 L679.18,619.84 L679.89,619.47 L680.60,619.10 L681.31,618.73 L682.02,618.37 L682.73,618.00 L683.44,617.64 L684.15,617.27 L684.87,616.91 L685.58,616.55 L686.29,616.19 L687.01,615.83 L687.72,615.47 L688.44,615.11 L689.16,614.76 L689.87,614.40 L690.59,614.05 L691.31,613.70 L692.03,613.35 L692.75,613.00 L693.47,612.65 L694.19,612.30 L694.91,611.95 L695.63,611.60 L696.35,611.26 L697.07,610.92 L697.80,610.57 L698.52,610.23 L699.24,609.89 L699.97,609.55 L700.69,609.21 L701.42,608.88 L702.15,608.54 L702.87,608.21 L703.60,607.87 L704.33,607.54 L705.05,607.21 L705.78,606.88 L706.51,606.55 L707.24,606.22 L707.97,605.89 L708.70,605.57 L709.43,605.24 L710.16,604.92 L710.90,604.59 L711.63,604.27 L712.36,603.95 L713.09,603.63 L713.83,603.31 L714.56,602.99 L715.30,602.68 L716.03,602.36 L716.77,602.05 L717.50,601.74 L718.24,601.42 L718.98,601.11 L719.72,600.80 L720.45,600.49 L721.19,600.18 L721.93,599.88 L722.67,599.57 L723.41,599.27 L724.15,598.96 L724.89,598.66 L725.63,598.36 L726.37,598.06 L727.11,597.76 L727.86,597.46 L728.60,597.16 L729.34,596.86 L730.08,596.57 L730.83,596.27 L731.57,595.98 L732.32,595.69 L733.06,595.39 L733.81,595.10 L734.55,594.81 L735.30,594.52 L736.04,594.24 L736.79,593.95 L737.54,593.66 L738.29,593.38 L739.03,593.09 L739.78,592.81 L740.53,592.53 L741.28,592.25 L742.03,591.97 L742.78,591.69 L743.53,591.41 L744.28,591.13 L745.03,590.86 L745.78,590.58 L746.53,590.31 L747.28,590.03 L748.04,589.76 L748.79,589.49 L749.54,589.22 L750.30,588.95 L751.05,588.68 L751.80,588.41 L752.56,588.15 L753.31,587.88 L754.07,587.61 L754.82,587.35 L755.58,587.09 L756.33,586.82 L757.09,586.56 L757.84,586.30 L758.60,586.04 L759.36,585.78 L760.11,585.52 L760.87,585.27 L761.63,585.01 L762.39,584.76 L763.15,584.50 L763.91,584.25 L764.66,583.99 L765.42,583.74 L766.18,583.49 L766.94,583.24 L767.70,582.99 L768.46,582.74 L769.22,582.49 L769.98,582.25 L770.75,582.00 L771.51,581.75 L772.27,581.51 L773.03,581.26 L773.79,581.02 L774.55,580.78 L775.32,580.54 L776.08,580.30 L776.84,580.06 L777.61,579.82 L778.37,579.58 L779.13,579.34 L779.90,579.10 L780.66,578.87 L781.43,578.63 L782.19,578.40 L782.96,578.16 L783.72,577.93 L784.49,577.70 L785.25,577.46 L786.02,577.23 L786.79,577.00 L787.55,576.77 L788.32,576.54 L789.08,576.32 L789.85,576.09 L790.62,575.86 L791.39,575.64 L792.15,575.41 L792.92,575.19 L793.69,574.96 L794.46,574.74 L795.23,574.52 L795.99,574.29 L796.76,574.07 L797.53,573.85 L798.30,573.63 L799.07,573.41 L799.84,573.19 L800.61,572.98 L801.38,572.76 L802.15,572.54 L802.92,572.33 L803.69,572.11 L804.46,571.90 L805.23,571.68 L806.00,571.47 L806.77,571.26 L807.55,571.04 L808.32,570.83 L809.09,570.62 L809.86,570.41 L810.63,570.20 L811.41,569.99 L812.18,569.78 L812.95,569.57 L813.72,569.37 L814.50,569.16 L815.27,568.95 L816.04,568.75 L816.81,568.54 L817.59,568.34 L818.36,568.13 L819.14,567.93 L819.91,567.73 L820.68,567.53 L821.46,567.32 L822.23,567.12 L823.01,566.92 L823.78,566.72 L824.56,566.52 L825.33,566.32 L826.11,566.13 L826.88,565.93 L827.66,565.73 L828.43,565.53 L829.19,565.28 L829.93,564.99 L830.68,564.69 L831.42,564.39 L832.16,564.08 L832.89,563.77 L833.63,563.46 L834.37,563.15 L835.10,562.83 L835.84,562.51 L836.57,562.19 L837.30,561.87 L838.03,561.55 L838.76,561.22 L839.49,560.90 L840.22,560.57 L840.95,560.24 L841.68,559.91 L842.41,559.58 L843.14,559.24 L843.86,558.91 L844.59,558.58 L845.32,558.24 L846.04,557.90 L846.77,557.56 L847.49,557.22 L848.21,556.88 L848.94,556.54 L849.66,556.19 L850.38,555.85 L851.10,555.50 L851.82,555.16 L852.54,554.81 L853.26,554.46 L853.98,554.11 L854.70,553.76 L855.42,553.41 L856.14,553.05 L856.86,552.70 L857.57,552.35 L858.29,551.99 L859.00,551.63 L859.72,551.27 L860.43,550.91 L861.15,550.55 L861.86,550.19 L862.58,549.83 L863.29,549.47 L864.00,549.10 L864.71,548.74 L865.42,548.37 L866.14,548.01 L866.85,547.64 L867.56,547.27 L868.26,546.90 L868.97,546.53 L869.68,546.16 L870.39,545.78 L871.10,545.41 L871.80,545.03 L872.51,544.66 L873.22,544.28 L873.92,543.90 L874.62,543.52 L875.33,543.14 L876.03,542.76 L876.74,542.38 L877.44,542.00 L878.14,541.62 L878.84,541.23 L879.54,540.85 L880.24,540.46 L880.94,540.07 L881.64,539.68 L882.34,539.29 L883.04,538.90 L883.74,538.51 L884.43,538.12 L885.13,537.73 L885.83,537.33 L886.52,536.94 L887.22,536.54 L887.91,536.14 L888.61,535.75 L889.30,535.35 L889.99,534.95 L890.69,534.55 L891.38,534.15 L892.07,533.74 L892.76,533.34 L893.45,532.94 L894.14,532.53 L894.83,532.12 L895.52,531.72 L896.21,531.31 L896.89,530.90 L897.58,530.49 L898.27,530.08 L898.95,529.67 L899.64,529.26 L900.32,528.84 L901.01,528.43 L901.69,528.01 L902.38,527.60 L903.06,527.18 L903.74,526.76 L904.42,526.34 L905.10,525.92 L905.78,525.50 L906.46,525.08 L907.14,524.66 L907.82,524.24 L908.50,523.81 L909.18,523.39 L909.86,522.96 L910.53,522.53 L911.21,522.11 L911.88,521.68 L912.56,521.25 L913.23,520.82 L913.91,520.39 L914.58,519.96 L915.25,519.52 L915.93,519.09 L916.60,518.66 L917.27,518.22 L917.94,517.79 L918.61,517.35 L919.28,516.91 L919.95,516.47 L920.62,516.03 L921.29,515.59 L921.95,515.15 L922.62,514.71 L923.29,514.27 L923.95,513.83 L924.62,513.38 L925.28,512.94 L925.95,512.49 L926.61,512.04 L927.28,511.60 L927.94,511.15 L928.60,510.70 L929.26,510.25 L929.92,509.80 L930.58,509.35 L931.24,508.90 L931.90,508.45 L932.56,507.99 L933.22,507.54 L933.88,507.08 L934.54,506.63 L935.20,506.17 L935.85,505.72 L936.51,505.26 L937.16,504.80 L937.82,504.34 L938.47,503.88 L939.13,503.42 L939.78,502.96 L940.43,502.50 L941.09,502.03 L941.74,501.57 L942.39,501.11 L943.04,500.64 L943.69,500.17 L944.34,499.71 L944.99,499.24 L945.64,498.77 L946.29,498.31 L946.94,497.84 L947.59,497.37 L948.23,496.90 L948.88,496.43 L949.53,495.95 L950.17,495.48 L950.82,495.01 L951.46,494.54 L952.11,494.06 L952.75,493.59 L953.39,493.11 L954.04,492.63 L954.68,492.16 L955.32,491.68 L955.96,491.20 L956.60,490.72 L957.24,490.24 L957.88,489.77 L958.52,489.28 L959.16,488.80 L959.80,488.32 L960.44,487.84 L961.08,487.36 L961.71,486.87 L962.35,486.39 L962.99,485.91 L963.62,485.42 L964.26,484.93 L964.90,484.45 L965.53,483.96 L966.16,483.47 L966.80,482.99 L967.43,482.50 L968.07,482.01 L968.70,481.52 L969.33,481.03 L969.96,480.54 L970.59,480.05 L971.22,479.56 L971.86,479.06 L972.20,478.79" stroke="#ff0000" stroke-width="6.8"/>
</g>
<path d="M325.6,977.0 V1128.8 M315.3,977.0 H335.9" stroke="#0034ff" stroke-width="2.2" fill="none"/>
<rect x="311.40" y="1064.40" width="28.0" height="28.0" fill="#fff" stroke="#0034ff" stroke-width="4.2"/>
<path d="M342.8,960.2 V997.6 M332.5,960.2 H353.1 M332.5,997.6 H353.1" stroke="#0034ff" stroke-width="2.2" fill="none"/>
<rect x="328.80" y="963.40" width="28.0" height="28.0" fill="#fff" stroke="#0034ff" stroke-width="4.2"/>
<path d="M656.0,618.0 V640.0 M645.7,618.0 H666.3" stroke="#ff0000" stroke-width="2.2" fill="none"/>
<circle cx="482.0" cy="779.6" r="16.0" fill="#ff0000"/>
<circle cx="656.0" cy="633.6" r="16.0" fill="#ff0000"/>
<path d="M506.2,725.4 V818.0 M495.9,725.4 H516.5 M495.9,818.0 H516.5" stroke="#0034ff" stroke-width="2.2" fill="none"/>
<rect x="492.20" y="746.00" width="28.0" height="28.0" fill="#fff" stroke="#0034ff" stroke-width="4.2"/>
<path d="M596.2,638.0 V714.2 M585.9,638.0 H606.5 M585.9,714.2 H606.5" stroke="#0034ff" stroke-width="2.2" fill="none"/>
<rect x="582.00" y="654.40" width="28.0" height="28.0" fill="#fff" stroke="#0034ff" stroke-width="4.2"/>
<rect x="661.20" y="564.40" width="28.0" height="28.0" fill="#fff" stroke="#0034ff" stroke-width="4.2"/>
<path d="M481.60,768.20 L498.70,797.82 L464.50,797.82 Z" fill="#fff" stroke="#6e00e1" stroke-width="4.2"/>
<path d="M481.60,828.42 L498.70,798.80 L464.50,798.80 Z" fill="#fff" stroke="#ff00c8" stroke-width="4.2"/>
<path d="M674.7,424 L687,454 L678,454 L678,548.4 L687,548.4 L674.7,578 L662.6,548.4 L671.4,548.4 L671.4,454 L662.6,454 Z" fill="#000"/>
<g font-family="Liberation Sans, Arial, Helvetica, sans-serif" fill="#000" text-anchor="middle">
<text x="250.6" y="1151.3" font-size="24.5">2</text>
<text x="325.4" y="1151.3" font-size="24.5">3</text>
<text x="378.5" y="1151.3" font-size="24.5">4</text>
<text x="419.7" y="1151.3" font-size="24.5">5</text>
<text x="453.3" y="1151.3" font-size="24.5">6</text>
<text x="481.7" y="1151.3" font-size="24.5">7</text>
<text x="506.3" y="1151.3" font-size="24.5">8</text>
<text x="675.3" y="1151.3" font-size="24.5">2</text>
<text x="750.1" y="1151.3" font-size="24.5">3</text>
<text x="803.2" y="1151.3" font-size="24.5">4</text>
<text x="844.4" y="1151.3" font-size="24.5">5</text>
<text x="878.0" y="1151.3" font-size="24.5">6</text>
<text x="906.4" y="1151.3" font-size="24.5">7</text>
<text x="931.0" y="1151.3" font-size="24.5">8</text>
<text x="123.3" y="1184.2" font-size="34.8">10</text>
<text x="548.0" y="1184.2" font-size="34.8">100</text>
<text x="972.7" y="1184.2" font-size="34.8">1000</text>
</g>
<g font-family="Liberation Sans, Arial, Helvetica, sans-serif" fill="#000">
<text x="44.2" y="1146.2" font-size="40">10</text>
<text x="88.8" y="1119.2" font-size="27.3">0</text>
<text x="44.2" y="934.2" font-size="40">10</text>
<text x="88.8" y="907.2" font-size="27.3">1</text>
<text x="44.2" y="722.2" font-size="40">10</text>
<text x="88.8" y="695.2" font-size="27.3">2</text>
<text x="44.2" y="510.2" font-size="40">10</text>
<text x="88.8" y="483.2" font-size="27.3">3</text>
<text x="44.2" y="298.2" font-size="40">10</text>
<text x="88.8" y="271.2" font-size="27.3">4</text>
</g>
<text x="374.8" y="1247.2" font-size="36" font-family="Liberation Sans, Arial, Helvetica, sans-serif" xml:space="preserve">Incident Energy   [eV]</text>
<text transform="translate(29.3,818.6) rotate(-90)" font-size="40" font-family="Liberation Sans, Arial, Helvetica, sans-serif" xml:space="preserve">Erosion   [µg]</text>
<rect x="154.8" y="305.3" width="432.8" height="178.9" fill="#fff" stroke="#000" stroke-width="2.4"/>
<path d="M164,338.0 H216.4" stroke="#ff0000" stroke-width="2.3" stroke-dasharray="4,4"/>
<text x="228.6" y="346.3" font-size="28.0" font-family="Liberation Sans, Arial, Helvetica, sans-serif" xml:space="preserve">H<tspan font-size="18.5" dy="-19" dx="0.5">+</tspan></text>
<path d="M164,380.2 H216.4" stroke="#0034ff" stroke-width="2.3" stroke-dasharray="4,4"/>
<text x="228.6" y="388.5" font-size="28.0" font-family="Liberation Sans, Arial, Helvetica, sans-serif" xml:space="preserve">He<tspan font-size="18.5" dy="-19" dx="0.5">+</tspan></text>
<path d="M388.6,380.2 H442.2" stroke="#0034ff" stroke-width="2.3" stroke-dasharray="12.2,12"/>
<text x="453.6" y="388.5" font-size="28.0" font-family="Liberation Sans, Arial, Helvetica, sans-serif" xml:space="preserve">He<tspan font-size="18.5" dy="-19" dx="0.5">2+</tspan></text>
<path d="M164,422.9 H216.4" stroke="#00a3ff" stroke-width="2.3" stroke-dasharray="4,4"/>
<text x="228.6" y="431.2" font-size="28.0" font-family="Liberation Sans, Arial, Helvetica, sans-serif" xml:space="preserve">0.1 × He<tspan font-size="18.5" dy="-19" dx="0.5">+</tspan></text>
<path d="M388.6,422.9 H442.2" stroke="#00a3ff" stroke-width="2.3" stroke-dasharray="12.2,12"/>
<text x="453.6" y="431.2" font-size="28.0" font-family="Liberation Sans, Arial, Helvetica, sans-serif" xml:space="preserve">0.1 × He<tspan font-size="18.5" dy="-19" dx="0.5">2+</tspan></text>
<path d="M164,465.5 H216.4" stroke="#44c400" stroke-width="2.3" stroke-dasharray="4,4"/>
<text x="229.0" y="473.8" font-size="28.0" font-family="Liberation Sans, Arial, Helvetica, sans-serif" xml:space="preserve">O<tspan font-size="18.5" dy="-19" dx="0.5">+</tspan></text>
<path d="M388.6,465.5 H442.2" stroke="#44c400" stroke-width="2.3" stroke-dasharray="12.2,12"/>
<text x="454.0" y="473.8" font-size="28.0" font-family="Liberation Sans, Arial, Helvetica, sans-serif" xml:space="preserve">O<tspan font-size="18.5" dy="-19" dx="0.5">2+</tspan></text>
<rect x="36.8" y="2.8" width="985" height="241" fill="#fff" stroke="#000" stroke-width="2.4"/>
<path d="M45.7,24.5 H98.6" stroke="#ff0000" stroke-width="6.8"/>
<path d="M45.7,68 H98.6" stroke="#0034ff" stroke-width="5.9" stroke-dasharray="20.2,19.9"/>
<path d="M385,68 H437.2" stroke="#00a3ff" stroke-width="6.2" stroke-dasharray="4,4"/>
<circle cx="72.3" cy="113.0" r="16.2" fill="#ff0000"/>
<path d="M72.40,141.20 L89.50,170.82 L55.30,170.82 Z" fill="#fff" stroke="#6e00e1" stroke-width="4.2"/>
<path d="M598.70,180.72 L615.80,151.10 L581.60,151.10 Z" fill="#fff" stroke="#ff00c8" stroke-width="4.2"/>
<rect x="58.20" y="194.90" width="28.0" height="28.0" fill="#fff" stroke="#0034ff" stroke-width="4.2"/>
<text x="110.2" y="32.8" font-size="28.05" font-family="Liberation Sans, Arial, Helvetica, sans-serif">Calc. (H plasma)</text>
<text x="110.2" y="76.8" font-size="28.05" font-family="Liberation Sans, Arial, Helvetica, sans-serif">Calc. (He plasma)</text>
<text x="450.1" y="76.8" font-size="28.05" font-family="Liberation Sans, Arial, Helvetica, sans-serif">Calc. (He plasma with erosion reduction)</text>
<text x="110.2" y="121.0" font-size="28.05" font-family="Liberation Sans, Arial, Helvetica, sans-serif">Exp. (H plasma)</text>
<text x="110.2" y="169.4" font-size="28.05" font-family="Liberation Sans, Arial, Helvetica, sans-serif">Exp. (90%H + 10%He plasma)</text>
<text x="637.2" y="169.4" font-size="28.05" font-family="Liberation Sans, Arial, Helvetica, sans-serif">Exp. (50%H + 50%He plasma)</text>
<text x="110.2" y="217.4" font-size="28.05" font-family="Liberation Sans, Arial, Helvetica, sans-serif">Exp. (He plasma)</text>
</svg>
</body></html>
